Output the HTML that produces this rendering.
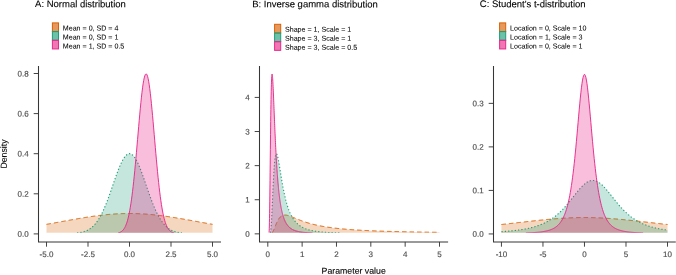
<!DOCTYPE html>
<html><head><meta charset="utf-8"><title>Distributions</title>
<style>html,body{margin:0;padding:0;background:#fff}svg{display:block}text{font-family:"Liberation Sans",Arial,Helvetica,sans-serif;text-rendering:geometricPrecision}</style>
</head><body>
<svg width="676" height="275" viewBox="0 0 676 275">
<rect width="676" height="275" fill="#fff"/>
<g>
<clipPath id="c1"><rect x="38.5" y="58.099999999999994" width="182.5" height="174.75"/></clipPath><g clip-path="url(#c1)">
<path d="M46.50,224.32 L47.06,224.22 L47.61,224.13 L48.17,224.03 L48.72,223.93 L49.28,223.84 L49.83,223.74 L50.39,223.64 L50.94,223.54 L51.50,223.45 L52.05,223.35 L52.61,223.25 L53.16,223.15 L53.72,223.05 L54.27,222.95 L54.83,222.85 L55.38,222.75 L55.94,222.65 L56.49,222.55 L57.05,222.45 L57.60,222.35 L58.16,222.25 L58.71,222.15 L59.27,222.05 L59.82,221.95 L60.38,221.85 L60.93,221.75 L61.49,221.64 L62.05,221.54 L62.60,221.44 L63.16,221.34 L63.71,221.24 L64.27,221.14 L64.82,221.04 L65.38,220.94 L65.93,220.84 L66.49,220.73 L67.04,220.63 L67.60,220.53 L68.15,220.43 L68.71,220.33 L69.26,220.23 L69.82,220.13 L70.37,220.03 L70.93,219.93 L71.48,219.83 L72.04,219.73 L72.59,219.63 L73.15,219.53 L73.70,219.44 L74.26,219.34 L74.81,219.24 L75.37,219.14 L75.92,219.04 L76.48,218.95 L77.04,218.85 L77.59,218.76 L78.15,218.66 L78.70,218.56 L79.26,218.47 L79.81,218.37 L80.37,218.28 L80.92,218.19 L81.48,218.09 L82.03,218.00 L82.59,217.91 L83.14,217.82 L83.70,217.73 L84.25,217.64 L84.81,217.55 L85.36,217.46 L85.92,217.37 L86.47,217.28 L87.03,217.19 L87.58,217.11 L88.14,217.02 L88.69,216.94 L89.25,216.85 L89.80,216.77 L90.36,216.68 L90.91,216.60 L91.47,216.52 L92.03,216.44 L92.58,216.36 L93.14,216.28 L93.69,216.20 L94.25,216.13 L94.80,216.05 L95.36,215.97 L95.91,215.90 L96.47,215.82 L97.02,215.75 L97.58,215.68 L98.13,215.61 L98.69,215.54 L99.24,215.47 L99.80,215.40 L100.35,215.34 L100.91,215.27 L101.46,215.20 L102.02,215.14 L102.57,215.08 L103.13,215.02 L103.68,214.95 L104.24,214.90 L104.79,214.84 L105.35,214.78 L105.90,214.72 L106.46,214.67 L107.02,214.61 L107.57,214.56 L108.13,214.51 L108.68,214.46 L109.24,214.41 L109.79,214.36 L110.35,214.32 L110.90,214.27 L111.46,214.23 L112.01,214.18 L112.57,214.14 L113.12,214.10 L113.68,214.06 L114.23,214.02 L114.79,213.99 L115.34,213.95 L115.90,213.92 L116.45,213.88 L117.01,213.85 L117.56,213.82 L118.12,213.79 L118.67,213.77 L119.23,213.74 L119.78,213.72 L120.34,213.69 L120.89,213.67 L121.45,213.65 L122.01,213.63 L122.56,213.61 L123.12,213.59 L123.67,213.58 L124.23,213.57 L124.78,213.55 L125.34,213.54 L125.89,213.53 L126.45,213.52 L127.00,213.52 L127.56,213.51 L128.11,213.51 L128.67,213.50 L129.22,213.50 L129.78,213.50 L130.33,213.50 L130.89,213.51 L131.44,213.51 L132.00,213.52 L132.55,213.52 L133.11,213.53 L133.66,213.54 L134.22,213.55 L134.77,213.57 L135.33,213.58 L135.88,213.59 L136.44,213.61 L136.99,213.63 L137.55,213.65 L138.11,213.67 L138.66,213.69 L139.22,213.72 L139.77,213.74 L140.33,213.77 L140.88,213.79 L141.44,213.82 L141.99,213.85 L142.55,213.88 L143.10,213.92 L143.66,213.95 L144.21,213.99 L144.77,214.02 L145.32,214.06 L145.88,214.10 L146.43,214.14 L146.99,214.18 L147.54,214.23 L148.10,214.27 L148.65,214.32 L149.21,214.36 L149.76,214.41 L150.32,214.46 L150.87,214.51 L151.43,214.56 L151.98,214.61 L152.54,214.67 L153.10,214.72 L153.65,214.78 L154.21,214.84 L154.76,214.90 L155.32,214.95 L155.87,215.02 L156.43,215.08 L156.98,215.14 L157.54,215.20 L158.09,215.27 L158.65,215.34 L159.20,215.40 L159.76,215.47 L160.31,215.54 L160.87,215.61 L161.42,215.68 L161.98,215.75 L162.53,215.82 L163.09,215.90 L163.64,215.97 L164.20,216.05 L164.75,216.13 L165.31,216.20 L165.86,216.28 L166.42,216.36 L166.97,216.44 L167.53,216.52 L168.09,216.60 L168.64,216.68 L169.20,216.77 L169.75,216.85 L170.31,216.94 L170.86,217.02 L171.42,217.11 L171.97,217.19 L172.53,217.28 L173.08,217.37 L173.64,217.46 L174.19,217.55 L174.75,217.64 L175.30,217.73 L175.86,217.82 L176.41,217.91 L176.97,218.00 L177.52,218.09 L178.08,218.19 L178.63,218.28 L179.19,218.37 L179.74,218.47 L180.30,218.56 L180.85,218.66 L181.41,218.76 L181.96,218.85 L182.52,218.95 L183.08,219.04 L183.63,219.14 L184.19,219.24 L184.74,219.34 L185.30,219.44 L185.85,219.53 L186.41,219.63 L186.96,219.73 L187.52,219.83 L188.07,219.93 L188.63,220.03 L189.18,220.13 L189.74,220.23 L190.29,220.33 L190.85,220.43 L191.40,220.53 L191.96,220.63 L192.51,220.73 L193.07,220.84 L193.62,220.94 L194.18,221.04 L194.73,221.14 L195.29,221.24 L195.84,221.34 L196.40,221.44 L196.95,221.54 L197.51,221.64 L198.07,221.75 L198.62,221.85 L199.18,221.95 L199.73,222.05 L200.29,222.15 L200.84,222.25 L201.40,222.35 L201.95,222.45 L202.51,222.55 L203.06,222.65 L203.62,222.75 L204.17,222.85 L204.73,222.95 L205.28,223.05 L205.84,223.15 L206.39,223.25 L206.95,223.35 L207.50,223.45 L208.06,223.54 L208.61,223.64 L209.17,223.74 L209.72,223.84 L210.28,223.93 L210.83,224.03 L211.39,224.13 L211.94,224.22 L212.50,224.32 L212.50,233.45 L46.50,233.45 Z" fill="#D95F02" fill-opacity="0.25" stroke="none"/>
<path d="M46.50,224.32 L47.06,224.22 L47.61,224.13 L48.17,224.03 L48.72,223.93 L49.28,223.84 L49.83,223.74 L50.39,223.64 L50.94,223.54 L51.50,223.45 L52.05,223.35 L52.61,223.25 L53.16,223.15 L53.72,223.05 L54.27,222.95 L54.83,222.85 L55.38,222.75 L55.94,222.65 L56.49,222.55 L57.05,222.45 L57.60,222.35 L58.16,222.25 L58.71,222.15 L59.27,222.05 L59.82,221.95 L60.38,221.85 L60.93,221.75 L61.49,221.64 L62.05,221.54 L62.60,221.44 L63.16,221.34 L63.71,221.24 L64.27,221.14 L64.82,221.04 L65.38,220.94 L65.93,220.84 L66.49,220.73 L67.04,220.63 L67.60,220.53 L68.15,220.43 L68.71,220.33 L69.26,220.23 L69.82,220.13 L70.37,220.03 L70.93,219.93 L71.48,219.83 L72.04,219.73 L72.59,219.63 L73.15,219.53 L73.70,219.44 L74.26,219.34 L74.81,219.24 L75.37,219.14 L75.92,219.04 L76.48,218.95 L77.04,218.85 L77.59,218.76 L78.15,218.66 L78.70,218.56 L79.26,218.47 L79.81,218.37 L80.37,218.28 L80.92,218.19 L81.48,218.09 L82.03,218.00 L82.59,217.91 L83.14,217.82 L83.70,217.73 L84.25,217.64 L84.81,217.55 L85.36,217.46 L85.92,217.37 L86.47,217.28 L87.03,217.19 L87.58,217.11 L88.14,217.02 L88.69,216.94 L89.25,216.85 L89.80,216.77 L90.36,216.68 L90.91,216.60 L91.47,216.52 L92.03,216.44 L92.58,216.36 L93.14,216.28 L93.69,216.20 L94.25,216.13 L94.80,216.05 L95.36,215.97 L95.91,215.90 L96.47,215.82 L97.02,215.75 L97.58,215.68 L98.13,215.61 L98.69,215.54 L99.24,215.47 L99.80,215.40 L100.35,215.34 L100.91,215.27 L101.46,215.20 L102.02,215.14 L102.57,215.08 L103.13,215.02 L103.68,214.95 L104.24,214.90 L104.79,214.84 L105.35,214.78 L105.90,214.72 L106.46,214.67 L107.02,214.61 L107.57,214.56 L108.13,214.51 L108.68,214.46 L109.24,214.41 L109.79,214.36 L110.35,214.32 L110.90,214.27 L111.46,214.23 L112.01,214.18 L112.57,214.14 L113.12,214.10 L113.68,214.06 L114.23,214.02 L114.79,213.99 L115.34,213.95 L115.90,213.92 L116.45,213.88 L117.01,213.85 L117.56,213.82 L118.12,213.79 L118.67,213.77 L119.23,213.74 L119.78,213.72 L120.34,213.69 L120.89,213.67 L121.45,213.65 L122.01,213.63 L122.56,213.61 L123.12,213.59 L123.67,213.58 L124.23,213.57 L124.78,213.55 L125.34,213.54 L125.89,213.53 L126.45,213.52 L127.00,213.52 L127.56,213.51 L128.11,213.51 L128.67,213.50 L129.22,213.50 L129.78,213.50 L130.33,213.50 L130.89,213.51 L131.44,213.51 L132.00,213.52 L132.55,213.52 L133.11,213.53 L133.66,213.54 L134.22,213.55 L134.77,213.57 L135.33,213.58 L135.88,213.59 L136.44,213.61 L136.99,213.63 L137.55,213.65 L138.11,213.67 L138.66,213.69 L139.22,213.72 L139.77,213.74 L140.33,213.77 L140.88,213.79 L141.44,213.82 L141.99,213.85 L142.55,213.88 L143.10,213.92 L143.66,213.95 L144.21,213.99 L144.77,214.02 L145.32,214.06 L145.88,214.10 L146.43,214.14 L146.99,214.18 L147.54,214.23 L148.10,214.27 L148.65,214.32 L149.21,214.36 L149.76,214.41 L150.32,214.46 L150.87,214.51 L151.43,214.56 L151.98,214.61 L152.54,214.67 L153.10,214.72 L153.65,214.78 L154.21,214.84 L154.76,214.90 L155.32,214.95 L155.87,215.02 L156.43,215.08 L156.98,215.14 L157.54,215.20 L158.09,215.27 L158.65,215.34 L159.20,215.40 L159.76,215.47 L160.31,215.54 L160.87,215.61 L161.42,215.68 L161.98,215.75 L162.53,215.82 L163.09,215.90 L163.64,215.97 L164.20,216.05 L164.75,216.13 L165.31,216.20 L165.86,216.28 L166.42,216.36 L166.97,216.44 L167.53,216.52 L168.09,216.60 L168.64,216.68 L169.20,216.77 L169.75,216.85 L170.31,216.94 L170.86,217.02 L171.42,217.11 L171.97,217.19 L172.53,217.28 L173.08,217.37 L173.64,217.46 L174.19,217.55 L174.75,217.64 L175.30,217.73 L175.86,217.82 L176.41,217.91 L176.97,218.00 L177.52,218.09 L178.08,218.19 L178.63,218.28 L179.19,218.37 L179.74,218.47 L180.30,218.56 L180.85,218.66 L181.41,218.76 L181.96,218.85 L182.52,218.95 L183.08,219.04 L183.63,219.14 L184.19,219.24 L184.74,219.34 L185.30,219.44 L185.85,219.53 L186.41,219.63 L186.96,219.73 L187.52,219.83 L188.07,219.93 L188.63,220.03 L189.18,220.13 L189.74,220.23 L190.29,220.33 L190.85,220.43 L191.40,220.53 L191.96,220.63 L192.51,220.73 L193.07,220.84 L193.62,220.94 L194.18,221.04 L194.73,221.14 L195.29,221.24 L195.84,221.34 L196.40,221.44 L196.95,221.54 L197.51,221.64 L198.07,221.75 L198.62,221.85 L199.18,221.95 L199.73,222.05 L200.29,222.15 L200.84,222.25 L201.40,222.35 L201.95,222.45 L202.51,222.55 L203.06,222.65 L203.62,222.75 L204.17,222.85 L204.73,222.95 L205.28,223.05 L205.84,223.15 L206.39,223.25 L206.95,223.35 L207.50,223.45 L208.06,223.54 L208.61,223.64 L209.17,223.74 L209.72,223.84 L210.28,223.93 L210.83,224.03 L211.39,224.13 L211.94,224.22 L212.50,224.32" fill="none" stroke="#D95F02" stroke-width="1.0" stroke-linejoin="round" stroke-dasharray="4.5 3.0"/>
<path d="M46.50,233.45 L47.06,233.45 L47.61,233.45 L48.17,233.45 L48.72,233.45 L49.28,233.45 L49.83,233.45 L50.39,233.45 L50.94,233.45 L51.50,233.45 L52.05,233.45 L52.61,233.45 L53.16,233.45 L53.72,233.45 L54.27,233.45 L54.83,233.45 L55.38,233.45 L55.94,233.45 L56.49,233.44 L57.05,233.44 L57.60,233.44 L58.16,233.44 L58.71,233.44 L59.27,233.44 L59.82,233.44 L60.38,233.44 L60.93,233.43 L61.49,233.43 L62.05,233.43 L62.60,233.43 L63.16,233.42 L63.71,233.42 L64.27,233.41 L64.82,233.41 L65.38,233.40 L65.93,233.40 L66.49,233.39 L67.04,233.38 L67.60,233.37 L68.15,233.36 L68.71,233.35 L69.26,233.34 L69.82,233.33 L70.37,233.31 L70.93,233.29 L71.48,233.27 L72.04,233.25 L72.59,233.23 L73.15,233.20 L73.70,233.17 L74.26,233.14 L74.81,233.10 L75.37,233.06 L75.92,233.01 L76.48,232.96 L77.04,232.91 L77.59,232.85 L78.15,232.78 L78.70,232.71 L79.26,232.63 L79.81,232.55 L80.37,232.45 L80.92,232.35 L81.48,232.24 L82.03,232.11 L82.59,231.98 L83.14,231.83 L83.70,231.68 L84.25,231.51 L84.81,231.32 L85.36,231.12 L85.92,230.91 L86.47,230.68 L87.03,230.43 L87.58,230.16 L88.14,229.87 L88.69,229.56 L89.25,229.23 L89.80,228.88 L90.36,228.50 L90.91,228.10 L91.47,227.67 L92.03,227.21 L92.58,226.72 L93.14,226.21 L93.69,225.66 L94.25,225.08 L94.80,224.47 L95.36,223.83 L95.91,223.15 L96.47,222.43 L97.02,221.68 L97.58,220.89 L98.13,220.07 L98.69,219.20 L99.24,218.30 L99.80,217.35 L100.35,216.37 L100.91,215.35 L101.46,214.29 L102.02,213.18 L102.57,212.04 L103.13,210.86 L103.68,209.64 L104.24,208.38 L104.79,207.09 L105.35,205.76 L105.90,204.40 L106.46,203.00 L107.02,201.57 L107.57,200.11 L108.13,198.62 L108.68,197.11 L109.24,195.58 L109.79,194.02 L110.35,192.44 L110.90,190.86 L111.46,189.25 L112.01,187.64 L112.57,186.03 L113.12,184.41 L113.68,182.79 L114.23,181.18 L114.79,179.58 L115.34,177.99 L115.90,176.41 L116.45,174.86 L117.01,173.34 L117.56,171.84 L118.12,170.37 L118.67,168.95 L119.23,167.56 L119.78,166.22 L120.34,164.93 L120.89,163.69 L121.45,162.51 L122.01,161.39 L122.56,160.34 L123.12,159.35 L123.67,158.43 L124.23,157.59 L124.78,156.82 L125.34,156.13 L125.89,155.52 L126.45,155.00 L127.00,154.56 L127.56,154.21 L128.11,153.94 L128.67,153.76 L129.22,153.67 L129.78,153.67 L130.33,153.76 L130.89,153.94 L131.44,154.21 L132.00,154.56 L132.55,155.00 L133.11,155.52 L133.66,156.13 L134.22,156.82 L134.77,157.59 L135.33,158.43 L135.88,159.35 L136.44,160.34 L136.99,161.39 L137.55,162.51 L138.11,163.69 L138.66,164.93 L139.22,166.22 L139.77,167.56 L140.33,168.95 L140.88,170.37 L141.44,171.84 L141.99,173.34 L142.55,174.86 L143.10,176.41 L143.66,177.99 L144.21,179.58 L144.77,181.18 L145.32,182.79 L145.88,184.41 L146.43,186.03 L146.99,187.64 L147.54,189.25 L148.10,190.86 L148.65,192.44 L149.21,194.02 L149.76,195.58 L150.32,197.11 L150.87,198.62 L151.43,200.11 L151.98,201.57 L152.54,203.00 L153.10,204.40 L153.65,205.76 L154.21,207.09 L154.76,208.38 L155.32,209.64 L155.87,210.86 L156.43,212.04 L156.98,213.18 L157.54,214.29 L158.09,215.35 L158.65,216.37 L159.20,217.35 L159.76,218.30 L160.31,219.20 L160.87,220.07 L161.42,220.89 L161.98,221.68 L162.53,222.43 L163.09,223.15 L163.64,223.83 L164.20,224.47 L164.75,225.08 L165.31,225.66 L165.86,226.21 L166.42,226.72 L166.97,227.21 L167.53,227.67 L168.09,228.10 L168.64,228.50 L169.20,228.88 L169.75,229.23 L170.31,229.56 L170.86,229.87 L171.42,230.16 L171.97,230.43 L172.53,230.68 L173.08,230.91 L173.64,231.12 L174.19,231.32 L174.75,231.51 L175.30,231.68 L175.86,231.83 L176.41,231.98 L176.97,232.11 L177.52,232.24 L178.08,232.35 L178.63,232.45 L179.19,232.55 L179.74,232.63 L180.30,232.71 L180.85,232.78 L181.41,232.85 L181.96,232.91 L182.52,232.96 L183.08,233.01 L183.63,233.06 L184.19,233.10 L184.74,233.14 L185.30,233.17 L185.85,233.20 L186.41,233.23 L186.96,233.25 L187.52,233.27 L188.07,233.29 L188.63,233.31 L189.18,233.33 L189.74,233.34 L190.29,233.35 L190.85,233.36 L191.40,233.37 L191.96,233.38 L192.51,233.39 L193.07,233.40 L193.62,233.40 L194.18,233.41 L194.73,233.41 L195.29,233.42 L195.84,233.42 L196.40,233.43 L196.95,233.43 L197.51,233.43 L198.07,233.43 L198.62,233.44 L199.18,233.44 L199.73,233.44 L200.29,233.44 L200.84,233.44 L201.40,233.44 L201.95,233.44 L202.51,233.44 L203.06,233.45 L203.62,233.45 L204.17,233.45 L204.73,233.45 L205.28,233.45 L205.84,233.45 L206.39,233.45 L206.95,233.45 L207.50,233.45 L208.06,233.45 L208.61,233.45 L209.17,233.45 L209.72,233.45 L210.28,233.45 L210.83,233.45 L211.39,233.45 L211.94,233.45 L212.50,233.45 L212.50,233.45 L46.50,233.45 Z" fill="#1B9E77" fill-opacity="0.26" stroke="none"/>
<path d="M77.04,232.91 L77.59,232.85 L78.15,232.78 L78.70,232.71 L79.26,232.63 L79.81,232.55 L80.37,232.45 L80.92,232.35 L81.48,232.24 L82.03,232.11 L82.59,231.98 L83.14,231.83 L83.70,231.68 L84.25,231.51 L84.81,231.32 L85.36,231.12 L85.92,230.91 L86.47,230.68 L87.03,230.43 L87.58,230.16 L88.14,229.87 L88.69,229.56 L89.25,229.23 L89.80,228.88 L90.36,228.50 L90.91,228.10 L91.47,227.67 L92.03,227.21 L92.58,226.72 L93.14,226.21 L93.69,225.66 L94.25,225.08 L94.80,224.47 L95.36,223.83 L95.91,223.15 L96.47,222.43 L97.02,221.68 L97.58,220.89 L98.13,220.07 L98.69,219.20 L99.24,218.30 L99.80,217.35 L100.35,216.37 L100.91,215.35 L101.46,214.29 L102.02,213.18 L102.57,212.04 L103.13,210.86 L103.68,209.64 L104.24,208.38 L104.79,207.09 L105.35,205.76 L105.90,204.40 L106.46,203.00 L107.02,201.57 L107.57,200.11 L108.13,198.62 L108.68,197.11 L109.24,195.58 L109.79,194.02 L110.35,192.44 L110.90,190.86 L111.46,189.25 L112.01,187.64 L112.57,186.03 L113.12,184.41 L113.68,182.79 L114.23,181.18 L114.79,179.58 L115.34,177.99 L115.90,176.41 L116.45,174.86 L117.01,173.34 L117.56,171.84 L118.12,170.37 L118.67,168.95 L119.23,167.56 L119.78,166.22 L120.34,164.93 L120.89,163.69 L121.45,162.51 L122.01,161.39 L122.56,160.34 L123.12,159.35 L123.67,158.43 L124.23,157.59 L124.78,156.82 L125.34,156.13 L125.89,155.52 L126.45,155.00 L127.00,154.56 L127.56,154.21 L128.11,153.94 L128.67,153.76 L129.22,153.67 L129.78,153.67 L130.33,153.76 L130.89,153.94 L131.44,154.21 L132.00,154.56 L132.55,155.00 L133.11,155.52 L133.66,156.13 L134.22,156.82 L134.77,157.59 L135.33,158.43 L135.88,159.35 L136.44,160.34 L136.99,161.39 L137.55,162.51 L138.11,163.69 L138.66,164.93 L139.22,166.22 L139.77,167.56 L140.33,168.95 L140.88,170.37 L141.44,171.84 L141.99,173.34 L142.55,174.86 L143.10,176.41 L143.66,177.99 L144.21,179.58 L144.77,181.18 L145.32,182.79 L145.88,184.41 L146.43,186.03 L146.99,187.64 L147.54,189.25 L148.10,190.86 L148.65,192.44 L149.21,194.02 L149.76,195.58 L150.32,197.11 L150.87,198.62 L151.43,200.11 L151.98,201.57 L152.54,203.00 L153.10,204.40 L153.65,205.76 L154.21,207.09 L154.76,208.38 L155.32,209.64 L155.87,210.86 L156.43,212.04 L156.98,213.18 L157.54,214.29 L158.09,215.35 L158.65,216.37 L159.20,217.35 L159.76,218.30 L160.31,219.20 L160.87,220.07 L161.42,220.89 L161.98,221.68 L162.53,222.43 L163.09,223.15 L163.64,223.83 L164.20,224.47 L164.75,225.08 L165.31,225.66 L165.86,226.21 L166.42,226.72 L166.97,227.21 L167.53,227.67 L168.09,228.10 L168.64,228.50 L169.20,228.88 L169.75,229.23 L170.31,229.56 L170.86,229.87 L171.42,230.16 L171.97,230.43 L172.53,230.68 L173.08,230.91 L173.64,231.12 L174.19,231.32 L174.75,231.51 L175.30,231.68 L175.86,231.83 L176.41,231.98 L176.97,232.11 L177.52,232.24 L178.08,232.35 L178.63,232.45 L179.19,232.55 L179.74,232.63 L180.30,232.71 L180.85,232.78 L181.41,232.85 L181.96,232.91" fill="none" stroke="#1B9E77" stroke-width="1.1" stroke-linejoin="round" stroke-dasharray="1.25 2.08"/>
<path d="M46.50,233.45 L47.06,233.45 L47.61,233.45 L48.17,233.45 L48.72,233.45 L49.28,233.45 L49.83,233.45 L50.39,233.45 L50.94,233.45 L51.50,233.45 L52.05,233.45 L52.61,233.45 L53.16,233.45 L53.72,233.45 L54.27,233.45 L54.83,233.45 L55.38,233.45 L55.94,233.45 L56.49,233.45 L57.05,233.45 L57.60,233.45 L58.16,233.45 L58.71,233.45 L59.27,233.45 L59.82,233.45 L60.38,233.45 L60.93,233.45 L61.49,233.45 L62.05,233.45 L62.60,233.45 L63.16,233.45 L63.71,233.45 L64.27,233.45 L64.82,233.45 L65.38,233.45 L65.93,233.45 L66.49,233.45 L67.04,233.45 L67.60,233.45 L68.15,233.45 L68.71,233.45 L69.26,233.45 L69.82,233.45 L70.37,233.45 L70.93,233.45 L71.48,233.45 L72.04,233.45 L72.59,233.45 L73.15,233.45 L73.70,233.45 L74.26,233.45 L74.81,233.45 L75.37,233.45 L75.92,233.45 L76.48,233.45 L77.04,233.45 L77.59,233.45 L78.15,233.45 L78.70,233.45 L79.26,233.45 L79.81,233.45 L80.37,233.45 L80.92,233.45 L81.48,233.45 L82.03,233.45 L82.59,233.45 L83.14,233.45 L83.70,233.45 L84.25,233.45 L84.81,233.45 L85.36,233.45 L85.92,233.45 L86.47,233.45 L87.03,233.45 L87.58,233.45 L88.14,233.45 L88.69,233.45 L89.25,233.45 L89.80,233.45 L90.36,233.45 L90.91,233.45 L91.47,233.45 L92.03,233.45 L92.58,233.45 L93.14,233.45 L93.69,233.45 L94.25,233.45 L94.80,233.45 L95.36,233.45 L95.91,233.45 L96.47,233.45 L97.02,233.45 L97.58,233.45 L98.13,233.45 L98.69,233.45 L99.24,233.45 L99.80,233.45 L100.35,233.45 L100.91,233.45 L101.46,233.45 L102.02,233.45 L102.57,233.45 L103.13,233.45 L103.68,233.45 L104.24,233.45 L104.79,233.45 L105.35,233.45 L105.90,233.45 L106.46,233.45 L107.02,233.45 L107.57,233.45 L108.13,233.45 L108.68,233.44 L109.24,233.44 L109.79,233.44 L110.35,233.44 L110.90,233.43 L111.46,233.42 L112.01,233.42 L112.57,233.40 L113.12,233.39 L113.68,233.37 L114.23,233.35 L114.79,233.32 L115.34,233.28 L115.90,233.24 L116.45,233.18 L117.01,233.11 L117.56,233.02 L118.12,232.91 L118.67,232.77 L119.23,232.60 L119.78,232.40 L120.34,232.16 L120.89,231.86 L121.45,231.51 L122.01,231.09 L122.56,230.59 L123.12,230.00 L123.67,229.31 L124.23,228.50 L124.78,227.56 L125.34,226.47 L125.89,225.21 L126.45,223.78 L127.00,222.15 L127.56,220.29 L128.11,218.21 L128.67,215.87 L129.22,213.26 L129.78,210.37 L130.33,207.19 L130.89,203.70 L131.44,199.89 L132.00,195.77 L132.55,191.33 L133.11,186.57 L133.66,181.51 L134.22,176.17 L134.77,170.55 L135.33,164.69 L135.88,158.63 L136.44,152.39 L136.99,146.02 L137.55,139.57 L138.11,133.10 L138.66,126.66 L139.22,120.32 L139.77,114.13 L140.33,108.17 L140.88,102.49 L141.44,97.17 L141.99,92.27 L142.55,87.85 L143.10,83.95 L143.66,80.64 L144.21,77.95 L144.77,75.92 L145.32,74.57 L145.88,73.93 L146.43,74.00 L146.99,74.78 L147.54,76.27 L148.10,78.43 L148.65,81.25 L149.21,84.68 L149.76,88.69 L150.32,93.22 L150.87,98.21 L151.43,103.60 L151.98,109.34 L152.54,115.35 L153.10,121.58 L153.65,127.95 L154.21,134.40 L154.76,140.87 L155.32,147.30 L155.87,153.65 L156.43,159.86 L156.98,165.88 L157.54,171.69 L158.09,177.26 L158.65,182.55 L159.20,187.55 L159.76,192.24 L160.31,196.62 L160.87,200.68 L161.42,204.42 L161.98,207.85 L162.53,210.97 L163.09,213.81 L163.64,216.36 L164.20,218.64 L164.75,220.68 L165.31,222.49 L165.86,224.08 L166.42,225.48 L166.97,226.70 L167.53,227.76 L168.09,228.67 L168.64,229.46 L169.20,230.13 L169.75,230.70 L170.31,231.18 L170.86,231.59 L171.42,231.93 L171.97,232.21 L172.53,232.45 L173.08,232.64 L173.64,232.80 L174.19,232.93 L174.75,233.04 L175.30,233.12 L175.86,233.19 L176.41,233.25 L176.97,233.29 L177.52,233.33 L178.08,233.35 L178.63,233.38 L179.19,233.39 L179.74,233.41 L180.30,233.42 L180.85,233.43 L181.41,233.43 L181.96,233.44 L182.52,233.44 L183.08,233.44 L183.63,233.44 L184.19,233.45 L184.74,233.45 L185.30,233.45 L185.85,233.45 L186.41,233.45 L186.96,233.45 L187.52,233.45 L188.07,233.45 L188.63,233.45 L189.18,233.45 L189.74,233.45 L190.29,233.45 L190.85,233.45 L191.40,233.45 L191.96,233.45 L192.51,233.45 L193.07,233.45 L193.62,233.45 L194.18,233.45 L194.73,233.45 L195.29,233.45 L195.84,233.45 L196.40,233.45 L196.95,233.45 L197.51,233.45 L198.07,233.45 L198.62,233.45 L199.18,233.45 L199.73,233.45 L200.29,233.45 L200.84,233.45 L201.40,233.45 L201.95,233.45 L202.51,233.45 L203.06,233.45 L203.62,233.45 L204.17,233.45 L204.73,233.45 L205.28,233.45 L205.84,233.45 L206.39,233.45 L206.95,233.45 L207.50,233.45 L208.06,233.45 L208.61,233.45 L209.17,233.45 L209.72,233.45 L210.28,233.45 L210.83,233.45 L211.39,233.45 L211.94,233.45 L212.50,233.45 L212.50,233.45 L46.50,233.45 Z" fill="#E7298A" fill-opacity="0.3" stroke="none"/>
<path d="M118.12,232.91 L118.67,232.77 L119.23,232.60 L119.78,232.40 L120.34,232.16 L120.89,231.86 L121.45,231.51 L122.01,231.09 L122.56,230.59 L123.12,230.00 L123.67,229.31 L124.23,228.50 L124.78,227.56 L125.34,226.47 L125.89,225.21 L126.45,223.78 L127.00,222.15 L127.56,220.29 L128.11,218.21 L128.67,215.87 L129.22,213.26 L129.78,210.37 L130.33,207.19 L130.89,203.70 L131.44,199.89 L132.00,195.77 L132.55,191.33 L133.11,186.57 L133.66,181.51 L134.22,176.17 L134.77,170.55 L135.33,164.69 L135.88,158.63 L136.44,152.39 L136.99,146.02 L137.55,139.57 L138.11,133.10 L138.66,126.66 L139.22,120.32 L139.77,114.13 L140.33,108.17 L140.88,102.49 L141.44,97.17 L141.99,92.27 L142.55,87.85 L143.10,83.95 L143.66,80.64 L144.21,77.95 L144.77,75.92 L145.32,74.57 L145.88,73.93 L146.43,74.00 L146.99,74.78 L147.54,76.27 L148.10,78.43 L148.65,81.25 L149.21,84.68 L149.76,88.69 L150.32,93.22 L150.87,98.21 L151.43,103.60 L151.98,109.34 L152.54,115.35 L153.10,121.58 L153.65,127.95 L154.21,134.40 L154.76,140.87 L155.32,147.30 L155.87,153.65 L156.43,159.86 L156.98,165.88 L157.54,171.69 L158.09,177.26 L158.65,182.55 L159.20,187.55 L159.76,192.24 L160.31,196.62 L160.87,200.68 L161.42,204.42 L161.98,207.85 L162.53,210.97 L163.09,213.81 L163.64,216.36 L164.20,218.64 L164.75,220.68 L165.31,222.49 L165.86,224.08 L166.42,225.48 L166.97,226.70 L167.53,227.76 L168.09,228.67 L168.64,229.46 L169.20,230.13 L169.75,230.70 L170.31,231.18 L170.86,231.59 L171.42,231.93 L171.97,232.21 L172.53,232.45 L173.08,232.64 L173.64,232.80 L174.19,232.93" fill="none" stroke="#E7298A" stroke-width="0.95" stroke-linejoin="round"/>
</g>
<path d="M38.5,66.1 L38.5,241.9 L221.0,241.9" fill="none" stroke="#363636" stroke-width="1.05" />
<line x1="46.50" x2="46.50" y1="241.9" y2="246.70" stroke="#3a3a3a" stroke-width="0.95"/>
<text x="46.50" y="257.10" text-anchor="middle" font-size="8.0" fill="#4D4D4D" stroke="#4D4D4D" stroke-width="0.15" transform="rotate(0.04 46.50 257.10)">-5.0</text>
<line x1="88.00" x2="88.00" y1="241.9" y2="246.70" stroke="#3a3a3a" stroke-width="0.95"/>
<text x="88.00" y="257.10" text-anchor="middle" font-size="8.0" fill="#4D4D4D" stroke="#4D4D4D" stroke-width="0.15" transform="rotate(0.04 88.00 257.10)">-2.5</text>
<line x1="129.50" x2="129.50" y1="241.9" y2="246.70" stroke="#3a3a3a" stroke-width="0.95"/>
<text x="129.50" y="257.10" text-anchor="middle" font-size="8.0" fill="#4D4D4D" stroke="#4D4D4D" stroke-width="0.15" transform="rotate(0.04 129.50 257.10)">0.0</text>
<line x1="171.00" x2="171.00" y1="241.9" y2="246.70" stroke="#3a3a3a" stroke-width="0.95"/>
<text x="171.00" y="257.10" text-anchor="middle" font-size="8.0" fill="#4D4D4D" stroke="#4D4D4D" stroke-width="0.15" transform="rotate(0.04 171.00 257.10)">2.5</text>
<line x1="212.50" x2="212.50" y1="241.9" y2="246.70" stroke="#3a3a3a" stroke-width="0.95"/>
<text x="212.50" y="257.10" text-anchor="middle" font-size="8.0" fill="#4D4D4D" stroke="#4D4D4D" stroke-width="0.15" transform="rotate(0.04 212.50 257.10)">5.0</text>
<line x1="33.7" x2="38.5" y1="233.90" y2="233.90" stroke="#3a3a3a" stroke-width="0.95"/>
<text x="28.60" y="236.80" text-anchor="end" font-size="8.0" fill="#4D4D4D" stroke="#4D4D4D" stroke-width="0.15" transform="rotate(0.04 28.60 236.80)">0.0</text>
<line x1="33.7" x2="38.5" y1="193.80" y2="193.80" stroke="#3a3a3a" stroke-width="0.95"/>
<text x="28.60" y="196.70" text-anchor="end" font-size="8.0" fill="#4D4D4D" stroke="#4D4D4D" stroke-width="0.15" transform="rotate(0.04 28.60 196.70)">0.2</text>
<line x1="33.7" x2="38.5" y1="153.70" y2="153.70" stroke="#3a3a3a" stroke-width="0.95"/>
<text x="28.60" y="156.60" text-anchor="end" font-size="8.0" fill="#4D4D4D" stroke="#4D4D4D" stroke-width="0.15" transform="rotate(0.04 28.60 156.60)">0.4</text>
<line x1="33.7" x2="38.5" y1="113.60" y2="113.60" stroke="#3a3a3a" stroke-width="0.95"/>
<text x="28.60" y="116.50" text-anchor="end" font-size="8.0" fill="#4D4D4D" stroke="#4D4D4D" stroke-width="0.15" transform="rotate(0.04 28.60 116.50)">0.6</text>
<line x1="33.7" x2="38.5" y1="73.50" y2="73.50" stroke="#3a3a3a" stroke-width="0.95"/>
<text x="28.60" y="76.40" text-anchor="end" font-size="8.0" fill="#4D4D4D" stroke="#4D4D4D" stroke-width="0.15" transform="rotate(0.04 28.60 76.40)">0.8</text>
<text x="35.1" y="7.1" font-size="9.5" fill="#000" stroke="#000" stroke-width="0.1" transform="rotate(0.04 35.1 7.1)">A: Normal distribution</text>
<rect x="52.4" y="22.90" width="6.1" height="8.65" fill="#D95F02" fill-opacity="0.64" stroke="#D95F02" stroke-width="1.0"/>
<text x="62.8" y="30.40" font-size="7.1" fill="#000" stroke="#000" stroke-width="0.05" transform="rotate(0.04 62.8 30.40)">Mean = 0, SD = 4</text>
<rect x="52.4" y="31.60" width="6.1" height="8.65" fill="#1B9E77" fill-opacity="0.64" stroke="#1B9E77" stroke-width="1.0"/>
<text x="62.8" y="39.40" font-size="7.1" fill="#000" stroke="#000" stroke-width="0.05" transform="rotate(0.04 62.8 39.40)">Mean = 0, SD = 1</text>
<rect x="52.4" y="40.30" width="6.1" height="8.65" fill="#E7298A" fill-opacity="0.64" stroke="#E7298A" stroke-width="1.0"/>
<text x="62.8" y="48.40" font-size="7.1" fill="#000" stroke="#000" stroke-width="0.05" transform="rotate(0.04 62.8 48.40)">Mean = 1, SD = 0.5</text>
<clipPath id="c2"><rect x="259.5" y="58.099999999999994" width="188.60000000000002" height="174.75"/></clipPath><g clip-path="url(#c2)">
<path d="M268.14,233.45 L268.23,233.45 L268.31,233.45 L268.40,233.45 L268.48,233.45 L268.57,233.45 L268.65,233.45 L268.74,233.45 L268.83,233.45 L268.91,233.45 L269.00,233.45 L269.08,233.45 L269.17,233.45 L269.25,233.45 L269.34,233.45 L269.42,233.45 L269.51,233.45 L269.59,233.45 L269.68,233.45 L269.76,233.45 L269.85,233.45 L269.93,233.45 L270.02,233.45 L270.10,233.45 L270.19,233.45 L270.27,233.44 L270.36,233.44 L270.44,233.44 L270.53,233.43 L270.61,233.42 L270.70,233.42 L270.78,233.40 L270.87,233.39 L270.96,233.37 L271.04,233.35 L271.13,233.33 L271.21,233.30 L271.30,233.27 L271.38,233.24 L271.47,233.19 L271.55,233.15 L271.64,233.10 L271.72,233.04 L271.81,232.98 L271.89,232.91 L271.98,232.83 L272.06,232.75 L272.15,232.66 L272.23,232.57 L272.32,232.47 L272.40,232.36 L272.49,232.25 L272.57,232.13 L272.66,232.00 L272.74,231.87 L272.83,231.73 L272.91,231.59 L273.00,231.44 L273.09,231.29 L273.17,231.13 L273.26,230.96 L273.34,230.79 L273.43,230.62 L273.51,230.44 L273.60,230.26 L273.68,230.07 L273.77,229.88 L273.85,229.69 L273.94,229.50 L274.02,229.30 L274.11,229.10 L274.19,228.89 L274.28,228.69 L274.36,228.48 L274.45,228.27 L274.53,228.06 L274.62,227.85 L274.70,227.63 L274.79,227.42 L274.87,227.20 L274.96,226.99 L275.04,226.77 L275.13,226.56 L275.22,226.34 L275.30,226.13 L275.39,225.92 L275.47,225.70 L275.56,225.49 L275.64,225.28 L275.73,225.07 L275.81,224.86 L275.90,224.65 L275.98,224.44 L276.07,224.24 L276.15,224.03 L276.24,223.83 L276.32,223.63 L276.41,223.43 L276.49,223.24 L276.58,223.04 L276.66,222.85 L276.75,222.66 L276.83,222.47 L276.92,222.29 L277.00,222.10 L277.09,221.92 L277.18,221.75 L277.26,221.57 L277.35,221.40 L277.43,221.23 L277.52,221.06 L277.60,220.89 L277.69,220.73 L277.77,220.57 L277.86,220.41 L277.94,220.26 L278.03,220.10 L278.11,219.96 L278.20,219.81 L278.28,219.66 L278.37,219.52 L278.45,219.38 L278.54,219.25 L278.62,219.11 L278.71,218.98 L278.79,218.85 L278.88,218.73 L278.96,218.60 L279.05,218.48 L279.13,218.37 L279.22,218.25 L279.31,218.14 L279.39,218.03 L279.48,217.92 L279.56,217.81 L279.65,217.71 L279.73,217.61 L279.82,217.51 L279.90,217.42 L279.99,217.32 L280.07,217.23 L280.16,217.14 L280.24,217.06 L280.33,216.97 L280.41,216.89 L280.50,216.81 L280.58,216.73 L280.67,216.66 L280.75,216.59 L280.84,216.51 L280.92,216.44 L281.01,216.38 L281.09,216.31 L281.18,216.25 L281.26,216.19 L281.35,216.13 L281.44,216.07 L281.52,216.02 L281.61,215.96 L281.69,215.91 L281.78,215.86 L281.86,215.81 L281.95,215.77 L282.03,215.72 L282.12,215.68 L282.20,215.64 L282.29,215.60 L282.37,215.56 L282.46,215.52 L282.54,215.49 L282.63,215.46 L282.71,215.42 L282.80,215.39 L282.88,215.36 L282.97,215.34 L283.05,215.31 L283.14,215.29 L283.22,215.26 L283.31,215.24 L283.40,215.22 L283.48,215.20 L283.57,215.18 L283.65,215.16 L283.74,215.15 L283.82,215.13 L283.91,215.12 L283.99,215.11 L284.08,215.10 L284.16,215.09 L284.25,215.08 L284.33,215.07 L284.42,215.06 L284.50,215.06 L284.59,215.05 L284.67,215.05 L284.76,215.05 L284.84,215.05 L284.93,215.04 L285.01,215.04 L285.10,215.05 L285.18,215.05 L285.27,215.05 L285.35,215.05 L285.44,215.06 L285.53,215.06 L285.61,215.07 L285.70,215.08 L285.78,215.08 L285.87,215.09 L285.95,215.10 L286.04,215.11 L286.12,215.12 L286.21,215.13 L286.29,215.14 L286.38,215.16 L286.46,215.17 L286.55,215.18 L286.63,215.20 L286.72,215.21 L286.80,215.23 L286.89,215.24 L286.97,215.26 L287.06,215.28 L287.14,215.29 L287.23,215.31 L287.31,215.33 L287.40,215.35 L287.48,215.37 L287.57,215.39 L287.66,215.41 L287.74,215.43 L287.83,215.45 L287.91,215.48 L288.00,215.50 L288.08,215.52 L288.17,215.54 L288.25,215.57 L288.34,215.59 L288.42,215.62 L288.51,215.64 L288.59,215.67 L288.68,215.69 L288.76,215.72 L288.85,215.74 L288.93,215.77 L289.02,215.80 L289.10,215.83 L289.19,215.85 L289.27,215.88 L289.36,215.91 L289.44,215.94 L289.53,215.97 L289.61,215.99 L289.70,216.02 L289.79,216.05 L289.87,216.08 L289.96,216.11 L290.04,216.14 L290.13,216.17 L290.21,216.20 L290.30,216.23 L290.38,216.27 L290.47,216.30 L290.55,216.33 L290.64,216.36 L290.72,216.39 L290.81,216.42 L290.89,216.46 L290.98,216.49 L291.06,216.52 L291.15,216.55 L291.23,216.59 L291.32,216.62 L291.40,216.65 L291.49,216.68 L291.57,216.72 L291.66,216.75 L291.75,216.78 L291.83,216.82 L291.92,216.85 L292.00,216.89 L292.09,216.92 L292.17,216.95 L292.26,216.99 L292.34,217.02 L292.43,217.06 L292.51,217.09 L292.60,217.13 L292.68,217.16 L292.77,217.19 L292.85,217.23 L292.94,217.26 L293.02,217.30 L293.11,217.33 L293.19,217.37 L293.28,217.40 L293.36,217.44 L293.45,217.47 L293.53,217.51 L293.62,217.54 L293.70,217.58 L293.79,217.61 L293.88,217.65 L293.96,217.68 L294.05,217.72 L294.13,217.76 L294.22,217.79 L294.30,217.83 L294.39,217.86 L294.47,217.90 L294.56,217.93 L294.64,217.97 L294.73,218.00 L294.81,218.04 L294.90,218.07 L294.98,218.11 L295.07,218.14 L295.15,218.18 L295.24,218.22 L295.32,218.25 L295.41,218.29 L295.49,218.32 L295.58,218.36 L295.66,218.39 L295.75,218.43 L295.83,218.46 L295.92,218.50 L296.01,218.53 L296.09,218.57 L296.18,218.60 L296.26,218.64 L296.35,218.67 L296.43,218.71 L296.52,218.74 L296.60,218.78 L296.69,218.81 L296.77,218.85 L296.86,218.88 L296.94,218.92 L297.03,218.95 L297.11,218.99 L297.20,219.02 L297.28,219.06 L297.37,219.09 L297.45,219.13 L297.54,219.16 L297.62,219.20 L297.71,219.23 L297.79,219.27 L297.88,219.30 L297.96,219.34 L298.05,219.37 L298.14,219.40 L298.22,219.44 L298.31,219.47 L298.39,219.51 L298.48,219.54 L298.56,219.57 L298.65,219.61 L298.73,219.64 L298.82,219.68 L298.90,219.71 L298.99,219.74 L299.07,219.78 L299.16,219.81 L299.24,219.84 L299.33,219.88 L299.41,219.91 L299.50,219.94 L299.58,219.98 L299.67,220.01 L299.75,220.04 L299.84,220.08 L299.92,220.11 L300.01,220.14 L300.10,220.18 L300.18,220.21 L300.27,220.24 L300.35,220.27 L300.44,220.31 L300.52,220.34 L300.61,220.37 L300.69,220.40 L300.78,220.44 L300.86,220.47 L300.95,220.50 L301.03,220.53 L301.12,220.56 L301.20,220.60 L301.29,220.63 L301.37,220.66 L301.46,220.69 L301.54,220.72 L301.63,220.75 L301.71,220.79 L301.80,220.82 L301.88,220.85 L301.97,220.88 L302.05,220.91 L302.14,220.94 L302.83,221.19 L303.52,221.43 L304.21,221.67 L304.90,221.91 L305.59,222.13 L306.28,222.36 L306.97,222.58 L307.66,222.79 L308.35,223.00 L309.04,223.20 L309.73,223.40 L310.42,223.59 L311.11,223.78 L311.80,223.96 L312.49,224.14 L313.18,224.32 L313.87,224.49 L314.56,224.65 L315.25,224.82 L315.95,224.97 L316.64,225.13 L317.33,225.28 L318.02,225.43 L318.71,225.57 L319.40,225.71 L320.09,225.85 L320.78,225.98 L321.47,226.11 L322.16,226.24 L322.85,226.36 L323.54,226.48 L324.23,226.60 L324.92,226.71 L325.61,226.83 L326.30,226.94 L326.99,227.04 L327.68,227.15 L328.37,227.25 L329.06,227.35 L329.75,227.45 L330.44,227.54 L331.13,227.64 L331.82,227.73 L332.51,227.82 L333.20,227.91 L333.89,227.99 L334.58,228.07 L335.27,228.16 L335.96,228.24 L336.65,228.31 L337.34,228.39 L338.03,228.47 L338.72,228.54 L339.41,228.61 L340.10,228.68 L340.79,228.75 L341.48,228.82 L342.17,228.88 L342.86,228.95 L343.56,229.01 L344.25,229.07 L344.94,229.13 L345.63,229.19 L346.32,229.25 L347.01,229.31 L347.70,229.36 L348.39,229.42 L349.08,229.47 L349.77,229.52 L350.46,229.58 L351.15,229.63 L351.84,229.68 L352.53,229.73 L353.22,229.77 L353.91,229.82 L354.60,229.87 L355.29,229.91 L355.98,229.96 L356.67,230.00 L357.36,230.04 L358.05,230.09 L358.74,230.13 L359.43,230.17 L360.12,230.21 L360.81,230.25 L361.50,230.28 L362.19,230.32 L362.88,230.36 L363.57,230.40 L364.26,230.43 L364.95,230.47 L365.64,230.50 L366.33,230.54 L367.02,230.57 L367.71,230.60 L368.40,230.63 L369.09,230.67 L369.78,230.70 L370.47,230.73 L371.17,230.76 L371.86,230.79 L372.55,230.82 L373.24,230.85 L373.93,230.87 L374.62,230.90 L375.31,230.93 L376.00,230.96 L376.69,230.98 L377.38,231.01 L378.07,231.03 L378.76,231.06 L379.45,231.09 L380.14,231.11 L380.83,231.13 L381.52,231.16 L382.21,231.18 L382.90,231.20 L383.59,231.23 L384.28,231.25 L384.97,231.27 L385.66,231.29 L386.35,231.31 L387.04,231.34 L387.73,231.36 L388.42,231.38 L389.11,231.40 L389.80,231.42 L390.49,231.44 L391.18,231.46 L391.87,231.48 L392.56,231.49 L393.25,231.51 L393.94,231.53 L394.63,231.55 L395.32,231.57 L396.01,231.58 L396.70,231.60 L397.39,231.62 L398.08,231.64 L398.78,231.65 L399.47,231.67 L400.16,231.68 L400.85,231.70 L401.54,231.72 L402.23,231.73 L402.92,231.75 L403.61,231.76 L404.30,231.78 L404.99,231.79 L405.68,231.81 L406.37,231.82 L407.06,231.83 L407.75,231.85 L408.44,231.86 L409.13,231.88 L409.82,231.89 L410.51,231.90 L411.20,231.92 L411.89,231.93 L412.58,231.94 L413.27,231.95 L413.96,231.97 L414.65,231.98 L415.34,231.99 L416.03,232.00 L416.72,232.01 L417.41,232.03 L418.10,232.04 L418.79,232.05 L419.48,232.06 L420.17,232.07 L420.86,232.08 L421.55,232.09 L422.24,232.10 L422.93,232.11 L423.62,232.13 L424.31,232.14 L425.00,232.15 L425.69,232.16 L426.39,232.17 L427.08,232.18 L427.77,232.19 L428.46,232.20 L429.15,232.21 L429.84,232.21 L430.53,232.22 L431.22,232.23 L431.91,232.24 L432.60,232.25 L433.29,232.26 L433.98,232.27 L434.67,232.28 L435.36,232.29 L436.05,232.30 L436.74,232.30 L437.43,232.31 L438.12,232.32 L438.81,232.33 L439.50,232.34 L439.50,233.45 L268.14,233.45 Z" fill="#D95F02" fill-opacity="0.25" stroke="none"/>
<path d="M271.89,232.91 L271.98,232.83 L272.06,232.75 L272.15,232.66 L272.23,232.57 L272.32,232.47 L272.40,232.36 L272.49,232.25 L272.57,232.13 L272.66,232.00 L272.74,231.87 L272.83,231.73 L272.91,231.59 L273.00,231.44 L273.09,231.29 L273.17,231.13 L273.26,230.96 L273.34,230.79 L273.43,230.62 L273.51,230.44 L273.60,230.26 L273.68,230.07 L273.77,229.88 L273.85,229.69 L273.94,229.50 L274.02,229.30 L274.11,229.10 L274.19,228.89 L274.28,228.69 L274.36,228.48 L274.45,228.27 L274.53,228.06 L274.62,227.85 L274.70,227.63 L274.79,227.42 L274.87,227.20 L274.96,226.99 L275.04,226.77 L275.13,226.56 L275.22,226.34 L275.30,226.13 L275.39,225.92 L275.47,225.70 L275.56,225.49 L275.64,225.28 L275.73,225.07 L275.81,224.86 L275.90,224.65 L275.98,224.44 L276.07,224.24 L276.15,224.03 L276.24,223.83 L276.32,223.63 L276.41,223.43 L276.49,223.24 L276.58,223.04 L276.66,222.85 L276.75,222.66 L276.83,222.47 L276.92,222.29 L277.00,222.10 L277.09,221.92 L277.18,221.75 L277.26,221.57 L277.35,221.40 L277.43,221.23 L277.52,221.06 L277.60,220.89 L277.69,220.73 L277.77,220.57 L277.86,220.41 L277.94,220.26 L278.03,220.10 L278.11,219.96 L278.20,219.81 L278.28,219.66 L278.37,219.52 L278.45,219.38 L278.54,219.25 L278.62,219.11 L278.71,218.98 L278.79,218.85 L278.88,218.73 L278.96,218.60 L279.05,218.48 L279.13,218.37 L279.22,218.25 L279.31,218.14 L279.39,218.03 L279.48,217.92 L279.56,217.81 L279.65,217.71 L279.73,217.61 L279.82,217.51 L279.90,217.42 L279.99,217.32 L280.07,217.23 L280.16,217.14 L280.24,217.06 L280.33,216.97 L280.41,216.89 L280.50,216.81 L280.58,216.73 L280.67,216.66 L280.75,216.59 L280.84,216.51 L280.92,216.44 L281.01,216.38 L281.09,216.31 L281.18,216.25 L281.26,216.19 L281.35,216.13 L281.44,216.07 L281.52,216.02 L281.61,215.96 L281.69,215.91 L281.78,215.86 L281.86,215.81 L281.95,215.77 L282.03,215.72 L282.12,215.68 L282.20,215.64 L282.29,215.60 L282.37,215.56 L282.46,215.52 L282.54,215.49 L282.63,215.46 L282.71,215.42 L282.80,215.39 L282.88,215.36 L282.97,215.34 L283.05,215.31 L283.14,215.29 L283.22,215.26 L283.31,215.24 L283.40,215.22 L283.48,215.20 L283.57,215.18 L283.65,215.16 L283.74,215.15 L283.82,215.13 L283.91,215.12 L283.99,215.11 L284.08,215.10 L284.16,215.09 L284.25,215.08 L284.33,215.07 L284.42,215.06 L284.50,215.06 L284.59,215.05 L284.67,215.05 L284.76,215.05 L284.84,215.05 L284.93,215.04 L285.01,215.04 L285.10,215.05 L285.18,215.05 L285.27,215.05 L285.35,215.05 L285.44,215.06 L285.53,215.06 L285.61,215.07 L285.70,215.08 L285.78,215.08 L285.87,215.09 L285.95,215.10 L286.04,215.11 L286.12,215.12 L286.21,215.13 L286.29,215.14 L286.38,215.16 L286.46,215.17 L286.55,215.18 L286.63,215.20 L286.72,215.21 L286.80,215.23 L286.89,215.24 L286.97,215.26 L287.06,215.28 L287.14,215.29 L287.23,215.31 L287.31,215.33 L287.40,215.35 L287.48,215.37 L287.57,215.39 L287.66,215.41 L287.74,215.43 L287.83,215.45 L287.91,215.48 L288.00,215.50 L288.08,215.52 L288.17,215.54 L288.25,215.57 L288.34,215.59 L288.42,215.62 L288.51,215.64 L288.59,215.67 L288.68,215.69 L288.76,215.72 L288.85,215.74 L288.93,215.77 L289.02,215.80 L289.10,215.83 L289.19,215.85 L289.27,215.88 L289.36,215.91 L289.44,215.94 L289.53,215.97 L289.61,215.99 L289.70,216.02 L289.79,216.05 L289.87,216.08 L289.96,216.11 L290.04,216.14 L290.13,216.17 L290.21,216.20 L290.30,216.23 L290.38,216.27 L290.47,216.30 L290.55,216.33 L290.64,216.36 L290.72,216.39 L290.81,216.42 L290.89,216.46 L290.98,216.49 L291.06,216.52 L291.15,216.55 L291.23,216.59 L291.32,216.62 L291.40,216.65 L291.49,216.68 L291.57,216.72 L291.66,216.75 L291.75,216.78 L291.83,216.82 L291.92,216.85 L292.00,216.89 L292.09,216.92 L292.17,216.95 L292.26,216.99 L292.34,217.02 L292.43,217.06 L292.51,217.09 L292.60,217.13 L292.68,217.16 L292.77,217.19 L292.85,217.23 L292.94,217.26 L293.02,217.30 L293.11,217.33 L293.19,217.37 L293.28,217.40 L293.36,217.44 L293.45,217.47 L293.53,217.51 L293.62,217.54 L293.70,217.58 L293.79,217.61 L293.88,217.65 L293.96,217.68 L294.05,217.72 L294.13,217.76 L294.22,217.79 L294.30,217.83 L294.39,217.86 L294.47,217.90 L294.56,217.93 L294.64,217.97 L294.73,218.00 L294.81,218.04 L294.90,218.07 L294.98,218.11 L295.07,218.14 L295.15,218.18 L295.24,218.22 L295.32,218.25 L295.41,218.29 L295.49,218.32 L295.58,218.36 L295.66,218.39 L295.75,218.43 L295.83,218.46 L295.92,218.50 L296.01,218.53 L296.09,218.57 L296.18,218.60 L296.26,218.64 L296.35,218.67 L296.43,218.71 L296.52,218.74 L296.60,218.78 L296.69,218.81 L296.77,218.85 L296.86,218.88 L296.94,218.92 L297.03,218.95 L297.11,218.99 L297.20,219.02 L297.28,219.06 L297.37,219.09 L297.45,219.13 L297.54,219.16 L297.62,219.20 L297.71,219.23 L297.79,219.27 L297.88,219.30 L297.96,219.34 L298.05,219.37 L298.14,219.40 L298.22,219.44 L298.31,219.47 L298.39,219.51 L298.48,219.54 L298.56,219.57 L298.65,219.61 L298.73,219.64 L298.82,219.68 L298.90,219.71 L298.99,219.74 L299.07,219.78 L299.16,219.81 L299.24,219.84 L299.33,219.88 L299.41,219.91 L299.50,219.94 L299.58,219.98 L299.67,220.01 L299.75,220.04 L299.84,220.08 L299.92,220.11 L300.01,220.14 L300.10,220.18 L300.18,220.21 L300.27,220.24 L300.35,220.27 L300.44,220.31 L300.52,220.34 L300.61,220.37 L300.69,220.40 L300.78,220.44 L300.86,220.47 L300.95,220.50 L301.03,220.53 L301.12,220.56 L301.20,220.60 L301.29,220.63 L301.37,220.66 L301.46,220.69 L301.54,220.72 L301.63,220.75 L301.71,220.79 L301.80,220.82 L301.88,220.85 L301.97,220.88 L302.05,220.91 L302.14,220.94 L302.83,221.19 L303.52,221.43 L304.21,221.67 L304.90,221.91 L305.59,222.13 L306.28,222.36 L306.97,222.58 L307.66,222.79 L308.35,223.00 L309.04,223.20 L309.73,223.40 L310.42,223.59 L311.11,223.78 L311.80,223.96 L312.49,224.14 L313.18,224.32 L313.87,224.49 L314.56,224.65 L315.25,224.82 L315.95,224.97 L316.64,225.13 L317.33,225.28 L318.02,225.43 L318.71,225.57 L319.40,225.71 L320.09,225.85 L320.78,225.98 L321.47,226.11 L322.16,226.24 L322.85,226.36 L323.54,226.48 L324.23,226.60 L324.92,226.71 L325.61,226.83 L326.30,226.94 L326.99,227.04 L327.68,227.15 L328.37,227.25 L329.06,227.35 L329.75,227.45 L330.44,227.54 L331.13,227.64 L331.82,227.73 L332.51,227.82 L333.20,227.91 L333.89,227.99 L334.58,228.07 L335.27,228.16 L335.96,228.24 L336.65,228.31 L337.34,228.39 L338.03,228.47 L338.72,228.54 L339.41,228.61 L340.10,228.68 L340.79,228.75 L341.48,228.82 L342.17,228.88 L342.86,228.95 L343.56,229.01 L344.25,229.07 L344.94,229.13 L345.63,229.19 L346.32,229.25 L347.01,229.31 L347.70,229.36 L348.39,229.42 L349.08,229.47 L349.77,229.52 L350.46,229.58 L351.15,229.63 L351.84,229.68 L352.53,229.73 L353.22,229.77 L353.91,229.82 L354.60,229.87 L355.29,229.91 L355.98,229.96 L356.67,230.00 L357.36,230.04 L358.05,230.09 L358.74,230.13 L359.43,230.17 L360.12,230.21 L360.81,230.25 L361.50,230.28 L362.19,230.32 L362.88,230.36 L363.57,230.40 L364.26,230.43 L364.95,230.47 L365.64,230.50 L366.33,230.54 L367.02,230.57 L367.71,230.60 L368.40,230.63 L369.09,230.67 L369.78,230.70 L370.47,230.73 L371.17,230.76 L371.86,230.79 L372.55,230.82 L373.24,230.85 L373.93,230.87 L374.62,230.90 L375.31,230.93 L376.00,230.96 L376.69,230.98 L377.38,231.01 L378.07,231.03 L378.76,231.06 L379.45,231.09 L380.14,231.11 L380.83,231.13 L381.52,231.16 L382.21,231.18 L382.90,231.20 L383.59,231.23 L384.28,231.25 L384.97,231.27 L385.66,231.29 L386.35,231.31 L387.04,231.34 L387.73,231.36 L388.42,231.38 L389.11,231.40 L389.80,231.42 L390.49,231.44 L391.18,231.46 L391.87,231.48 L392.56,231.49 L393.25,231.51 L393.94,231.53 L394.63,231.55 L395.32,231.57 L396.01,231.58 L396.70,231.60 L397.39,231.62 L398.08,231.64 L398.78,231.65 L399.47,231.67 L400.16,231.68 L400.85,231.70 L401.54,231.72 L402.23,231.73 L402.92,231.75 L403.61,231.76 L404.30,231.78 L404.99,231.79 L405.68,231.81 L406.37,231.82 L407.06,231.83 L407.75,231.85 L408.44,231.86 L409.13,231.88 L409.82,231.89 L410.51,231.90 L411.20,231.92 L411.89,231.93 L412.58,231.94 L413.27,231.95 L413.96,231.97 L414.65,231.98 L415.34,231.99 L416.03,232.00 L416.72,232.01 L417.41,232.03 L418.10,232.04 L418.79,232.05 L419.48,232.06 L420.17,232.07 L420.86,232.08 L421.55,232.09 L422.24,232.10 L422.93,232.11 L423.62,232.13 L424.31,232.14 L425.00,232.15 L425.69,232.16 L426.39,232.17 L427.08,232.18 L427.77,232.19 L428.46,232.20 L429.15,232.21 L429.84,232.21 L430.53,232.22 L431.22,232.23 L431.91,232.24 L432.60,232.25 L433.29,232.26 L433.98,232.27 L434.67,232.28 L435.36,232.29 L436.05,232.30 L436.74,232.30 L437.43,232.31 L438.12,232.32 L438.81,232.33 L439.50,232.34" fill="none" stroke="#D95F02" stroke-width="1.0" stroke-linejoin="round" stroke-dasharray="4.5 3.0"/>
<path d="M268.14,233.45 L268.23,233.45 L268.31,233.45 L268.40,233.45 L268.48,233.45 L268.57,233.45 L268.65,233.45 L268.74,233.45 L268.83,233.45 L268.91,233.45 L269.00,233.45 L269.08,233.45 L269.17,233.45 L269.25,233.45 L269.34,233.45 L269.42,233.45 L269.51,233.44 L269.59,233.44 L269.68,233.43 L269.76,233.41 L269.85,233.38 L269.93,233.33 L270.02,233.27 L270.10,233.17 L270.19,233.04 L270.27,232.86 L270.36,232.63 L270.44,232.34 L270.53,231.99 L270.61,231.56 L270.70,231.05 L270.78,230.45 L270.87,229.76 L270.96,228.97 L271.04,228.09 L271.13,227.12 L271.21,226.04 L271.30,224.87 L271.38,223.61 L271.47,222.26 L271.55,220.82 L271.64,219.30 L271.72,217.71 L271.81,216.05 L271.89,214.33 L271.98,212.56 L272.06,210.74 L272.15,208.88 L272.23,206.98 L272.32,205.07 L272.40,203.13 L272.49,201.19 L272.57,199.24 L272.66,197.29 L272.74,195.35 L272.83,193.42 L272.91,191.52 L273.00,189.63 L273.09,187.78 L273.17,185.96 L273.26,184.17 L273.34,182.43 L273.43,180.73 L273.51,179.07 L273.60,177.46 L273.68,175.90 L273.77,174.40 L273.85,172.94 L273.94,171.54 L274.02,170.20 L274.11,168.91 L274.19,167.68 L274.28,166.51 L274.36,165.39 L274.45,164.33 L274.53,163.33 L274.62,162.38 L274.70,161.49 L274.79,160.65 L274.87,159.87 L274.96,159.14 L275.04,158.46 L275.13,157.83 L275.22,157.25 L275.30,156.73 L275.39,156.25 L275.47,155.81 L275.56,155.42 L275.64,155.08 L275.73,154.78 L275.81,154.52 L275.90,154.30 L275.98,154.11 L276.07,153.97 L276.15,153.86 L276.24,153.79 L276.32,153.75 L276.41,153.74 L276.49,153.77 L276.58,153.82 L276.66,153.90 L276.75,154.01 L276.83,154.15 L276.92,154.31 L277.00,154.49 L277.09,154.70 L277.18,154.93 L277.26,155.18 L277.35,155.45 L277.43,155.74 L277.52,156.05 L277.60,156.37 L277.69,156.71 L277.77,157.07 L277.86,157.44 L277.94,157.82 L278.03,158.22 L278.11,158.63 L278.20,159.05 L278.28,159.48 L278.37,159.92 L278.45,160.37 L278.54,160.83 L278.62,161.29 L278.71,161.77 L278.79,162.25 L278.88,162.73 L278.96,163.23 L279.05,163.72 L279.13,164.23 L279.22,164.73 L279.31,165.24 L279.39,165.76 L279.48,166.28 L279.56,166.80 L279.65,167.32 L279.73,167.84 L279.82,168.37 L279.90,168.90 L279.99,169.43 L280.07,169.96 L280.16,170.49 L280.24,171.02 L280.33,171.55 L280.41,172.08 L280.50,172.61 L280.58,173.13 L280.67,173.66 L280.75,174.19 L280.84,174.71 L280.92,175.24 L281.01,175.76 L281.09,176.28 L281.18,176.80 L281.26,177.31 L281.35,177.83 L281.44,178.34 L281.52,178.85 L281.61,179.35 L281.69,179.86 L281.78,180.36 L281.86,180.86 L281.95,181.35 L282.03,181.84 L282.12,182.33 L282.20,182.82 L282.29,183.30 L282.37,183.78 L282.46,184.26 L282.54,184.73 L282.63,185.20 L282.71,185.66 L282.80,186.12 L282.88,186.58 L282.97,187.04 L283.05,187.49 L283.14,187.93 L283.22,188.38 L283.31,188.82 L283.40,189.25 L283.48,189.68 L283.57,190.11 L283.65,190.54 L283.74,190.96 L283.82,191.38 L283.91,191.79 L283.99,192.20 L284.08,192.61 L284.16,193.01 L284.25,193.41 L284.33,193.80 L284.42,194.19 L284.50,194.58 L284.59,194.96 L284.67,195.34 L284.76,195.72 L284.84,196.09 L284.93,196.46 L285.01,196.83 L285.10,197.19 L285.18,197.55 L285.27,197.90 L285.35,198.25 L285.44,198.60 L285.53,198.94 L285.61,199.28 L285.70,199.62 L285.78,199.95 L285.87,200.28 L285.95,200.61 L286.04,200.93 L286.12,201.25 L286.21,201.57 L286.29,201.88 L286.38,202.19 L286.46,202.50 L286.55,202.80 L286.63,203.10 L286.72,203.40 L286.80,203.70 L286.89,203.99 L286.97,204.27 L287.06,204.56 L287.14,204.84 L287.23,205.12 L287.31,205.40 L287.40,205.67 L287.48,205.94 L287.57,206.21 L287.66,206.47 L287.74,206.73 L287.83,206.99 L287.91,207.25 L288.00,207.50 L288.08,207.75 L288.17,208.00 L288.25,208.24 L288.34,208.49 L288.42,208.73 L288.51,208.96 L288.59,209.20 L288.68,209.43 L288.76,209.66 L288.85,209.89 L288.93,210.11 L289.02,210.33 L289.10,210.55 L289.19,210.77 L289.27,210.99 L289.36,211.20 L289.44,211.41 L289.53,211.62 L289.61,211.82 L289.70,212.03 L289.79,212.23 L289.87,212.43 L289.96,212.63 L290.04,212.82 L290.13,213.01 L290.21,213.20 L290.30,213.39 L290.38,213.58 L290.47,213.77 L290.55,213.95 L290.64,214.13 L290.72,214.31 L290.81,214.49 L290.89,214.66 L290.98,214.83 L291.06,215.01 L291.15,215.17 L291.23,215.34 L291.32,215.51 L291.40,215.67 L291.49,215.84 L291.57,216.00 L291.66,216.15 L291.75,216.31 L291.83,216.47 L291.92,216.62 L292.00,216.77 L292.09,216.92 L292.17,217.07 L292.26,217.22 L292.34,217.37 L292.43,217.51 L292.51,217.65 L292.60,217.80 L292.68,217.94 L292.77,218.07 L292.85,218.21 L292.94,218.35 L293.02,218.48 L293.11,218.61 L293.19,218.75 L293.28,218.88 L293.36,219.00 L293.45,219.13 L293.53,219.26 L293.62,219.38 L293.70,219.50 L293.79,219.63 L293.88,219.75 L293.96,219.87 L294.05,219.99 L294.13,220.10 L294.22,220.22 L294.30,220.33 L294.39,220.45 L294.47,220.56 L294.56,220.67 L294.64,220.78 L294.73,220.89 L294.81,221.00 L294.90,221.10 L294.98,221.21 L295.07,221.31 L295.15,221.42 L295.24,221.52 L295.32,221.62 L295.41,221.72 L295.49,221.82 L295.58,221.92 L295.66,222.02 L295.75,222.11 L295.83,222.21 L295.92,222.30 L296.01,222.39 L296.09,222.49 L296.18,222.58 L296.26,222.67 L296.35,222.76 L296.43,222.85 L296.52,222.94 L296.60,223.02 L296.69,223.11 L296.77,223.19 L296.86,223.28 L296.94,223.36 L297.03,223.45 L297.11,223.53 L297.20,223.61 L297.28,223.69 L297.37,223.77 L297.45,223.85 L297.54,223.93 L297.62,224.00 L297.71,224.08 L297.79,224.15 L297.88,224.23 L297.96,224.30 L298.05,224.38 L298.14,224.45 L298.22,224.52 L298.31,224.59 L298.39,224.66 L298.48,224.73 L298.56,224.80 L298.65,224.87 L298.73,224.94 L298.82,225.01 L298.90,225.08 L298.99,225.14 L299.07,225.21 L299.16,225.27 L299.24,225.34 L299.33,225.40 L299.41,225.46 L299.50,225.52 L299.58,225.59 L299.67,225.65 L299.75,225.71 L299.84,225.77 L299.92,225.83 L300.01,225.89 L300.10,225.95 L300.18,226.00 L300.27,226.06 L300.35,226.12 L300.44,226.17 L300.52,226.23 L300.61,226.28 L300.69,226.34 L300.78,226.39 L300.86,226.45 L300.95,226.50 L301.03,226.55 L301.12,226.61 L301.20,226.66 L301.29,226.71 L301.37,226.76 L301.46,226.81 L301.54,226.86 L301.63,226.91 L301.71,226.96 L301.80,227.01 L301.88,227.05 L301.97,227.10 L302.05,227.15 L302.14,227.20 L302.83,227.56 L303.52,227.90 L304.21,228.21 L304.90,228.51 L305.59,228.78 L306.28,229.03 L306.97,229.27 L307.66,229.49 L308.35,229.70 L309.04,229.90 L309.73,230.08 L310.42,230.25 L311.11,230.41 L311.80,230.56 L312.49,230.70 L313.18,230.84 L313.87,230.96 L314.56,231.08 L315.25,231.19 L315.95,231.29 L316.64,231.39 L317.33,231.49 L318.02,231.57 L318.71,231.66 L319.40,231.74 L320.09,231.81 L320.78,231.88 L321.47,231.95 L322.16,232.01 L322.85,232.07 L323.54,232.13 L324.23,232.18 L324.92,232.23 L325.61,232.28 L326.30,232.33 L326.99,232.37 L327.68,232.41 L328.37,232.45 L329.06,232.49 L329.75,232.53 L330.44,232.56 L331.13,232.60 L331.82,232.63 L332.51,232.66 L333.20,232.69 L333.89,232.71 L334.58,232.74 L335.27,232.76 L335.96,232.79 L336.65,232.81 L337.34,232.83 L338.03,232.85 L338.72,232.87 L339.41,232.89 L340.10,232.91 L340.79,232.93 L341.48,232.95 L342.17,232.96 L342.86,232.98 L343.56,232.99 L344.25,233.01 L344.94,233.02 L345.63,233.04 L346.32,233.05 L347.01,233.06 L347.70,233.07 L348.39,233.08 L349.08,233.09 L349.77,233.11 L350.46,233.12 L351.15,233.13 L351.84,233.14 L352.53,233.14 L353.22,233.15 L353.91,233.16 L354.60,233.17 L355.29,233.18 L355.98,233.19 L356.67,233.19 L357.36,233.20 L358.05,233.21 L358.74,233.21 L359.43,233.22 L360.12,233.23 L360.81,233.23 L361.50,233.24 L362.19,233.24 L362.88,233.25 L363.57,233.25 L364.26,233.26 L364.95,233.26 L365.64,233.27 L366.33,233.27 L367.02,233.28 L367.71,233.28 L368.40,233.29 L369.09,233.29 L369.78,233.29 L370.47,233.30 L371.17,233.30 L371.86,233.31 L372.55,233.31 L373.24,233.31 L373.93,233.32 L374.62,233.32 L375.31,233.32 L376.00,233.32 L376.69,233.33 L377.38,233.33 L378.07,233.33 L378.76,233.34 L379.45,233.34 L380.14,233.34 L380.83,233.34 L381.52,233.35 L382.21,233.35 L382.90,233.35 L383.59,233.35 L384.28,233.35 L384.97,233.36 L385.66,233.36 L386.35,233.36 L387.04,233.36 L387.73,233.36 L388.42,233.37 L389.11,233.37 L389.80,233.37 L390.49,233.37 L391.18,233.37 L391.87,233.37 L392.56,233.38 L393.25,233.38 L393.94,233.38 L394.63,233.38 L395.32,233.38 L396.01,233.38 L396.70,233.38 L397.39,233.39 L398.08,233.39 L398.78,233.39 L399.47,233.39 L400.16,233.39 L400.85,233.39 L401.54,233.39 L402.23,233.39 L402.92,233.39 L403.61,233.40 L404.30,233.40 L404.99,233.40 L405.68,233.40 L406.37,233.40 L407.06,233.40 L407.75,233.40 L408.44,233.40 L409.13,233.40 L409.82,233.40 L410.51,233.41 L411.20,233.41 L411.89,233.41 L412.58,233.41 L413.27,233.41 L413.96,233.41 L414.65,233.41 L415.34,233.41 L416.03,233.41 L416.72,233.41 L417.41,233.41 L418.10,233.41 L418.79,233.41 L419.48,233.41 L420.17,233.41 L420.86,233.42 L421.55,233.42 L422.24,233.42 L422.93,233.42 L423.62,233.42 L424.31,233.42 L425.00,233.42 L425.69,233.42 L426.39,233.42 L427.08,233.42 L427.77,233.42 L428.46,233.42 L429.15,233.42 L429.84,233.42 L430.53,233.42 L431.22,233.42 L431.91,233.42 L432.60,233.42 L433.29,233.42 L433.98,233.42 L434.67,233.43 L435.36,233.43 L436.05,233.43 L436.74,233.43 L437.43,233.43 L438.12,233.43 L438.81,233.43 L439.50,233.43 L439.50,233.45 L268.14,233.45 Z" fill="#1B9E77" fill-opacity="0.26" stroke="none"/>
<path d="M270.27,232.86 L270.36,232.63 L270.44,232.34 L270.53,231.99 L270.61,231.56 L270.70,231.05 L270.78,230.45 L270.87,229.76 L270.96,228.97 L271.04,228.09 L271.13,227.12 L271.21,226.04 L271.30,224.87 L271.38,223.61 L271.47,222.26 L271.55,220.82 L271.64,219.30 L271.72,217.71 L271.81,216.05 L271.89,214.33 L271.98,212.56 L272.06,210.74 L272.15,208.88 L272.23,206.98 L272.32,205.07 L272.40,203.13 L272.49,201.19 L272.57,199.24 L272.66,197.29 L272.74,195.35 L272.83,193.42 L272.91,191.52 L273.00,189.63 L273.09,187.78 L273.17,185.96 L273.26,184.17 L273.34,182.43 L273.43,180.73 L273.51,179.07 L273.60,177.46 L273.68,175.90 L273.77,174.40 L273.85,172.94 L273.94,171.54 L274.02,170.20 L274.11,168.91 L274.19,167.68 L274.28,166.51 L274.36,165.39 L274.45,164.33 L274.53,163.33 L274.62,162.38 L274.70,161.49 L274.79,160.65 L274.87,159.87 L274.96,159.14 L275.04,158.46 L275.13,157.83 L275.22,157.25 L275.30,156.73 L275.39,156.25 L275.47,155.81 L275.56,155.42 L275.64,155.08 L275.73,154.78 L275.81,154.52 L275.90,154.30 L275.98,154.11 L276.07,153.97 L276.15,153.86 L276.24,153.79 L276.32,153.75 L276.41,153.74 L276.49,153.77 L276.58,153.82 L276.66,153.90 L276.75,154.01 L276.83,154.15 L276.92,154.31 L277.00,154.49 L277.09,154.70 L277.18,154.93 L277.26,155.18 L277.35,155.45 L277.43,155.74 L277.52,156.05 L277.60,156.37 L277.69,156.71 L277.77,157.07 L277.86,157.44 L277.94,157.82 L278.03,158.22 L278.11,158.63 L278.20,159.05 L278.28,159.48 L278.37,159.92 L278.45,160.37 L278.54,160.83 L278.62,161.29 L278.71,161.77 L278.79,162.25 L278.88,162.73 L278.96,163.23 L279.05,163.72 L279.13,164.23 L279.22,164.73 L279.31,165.24 L279.39,165.76 L279.48,166.28 L279.56,166.80 L279.65,167.32 L279.73,167.84 L279.82,168.37 L279.90,168.90 L279.99,169.43 L280.07,169.96 L280.16,170.49 L280.24,171.02 L280.33,171.55 L280.41,172.08 L280.50,172.61 L280.58,173.13 L280.67,173.66 L280.75,174.19 L280.84,174.71 L280.92,175.24 L281.01,175.76 L281.09,176.28 L281.18,176.80 L281.26,177.31 L281.35,177.83 L281.44,178.34 L281.52,178.85 L281.61,179.35 L281.69,179.86 L281.78,180.36 L281.86,180.86 L281.95,181.35 L282.03,181.84 L282.12,182.33 L282.20,182.82 L282.29,183.30 L282.37,183.78 L282.46,184.26 L282.54,184.73 L282.63,185.20 L282.71,185.66 L282.80,186.12 L282.88,186.58 L282.97,187.04 L283.05,187.49 L283.14,187.93 L283.22,188.38 L283.31,188.82 L283.40,189.25 L283.48,189.68 L283.57,190.11 L283.65,190.54 L283.74,190.96 L283.82,191.38 L283.91,191.79 L283.99,192.20 L284.08,192.61 L284.16,193.01 L284.25,193.41 L284.33,193.80 L284.42,194.19 L284.50,194.58 L284.59,194.96 L284.67,195.34 L284.76,195.72 L284.84,196.09 L284.93,196.46 L285.01,196.83 L285.10,197.19 L285.18,197.55 L285.27,197.90 L285.35,198.25 L285.44,198.60 L285.53,198.94 L285.61,199.28 L285.70,199.62 L285.78,199.95 L285.87,200.28 L285.95,200.61 L286.04,200.93 L286.12,201.25 L286.21,201.57 L286.29,201.88 L286.38,202.19 L286.46,202.50 L286.55,202.80 L286.63,203.10 L286.72,203.40 L286.80,203.70 L286.89,203.99 L286.97,204.27 L287.06,204.56 L287.14,204.84 L287.23,205.12 L287.31,205.40 L287.40,205.67 L287.48,205.94 L287.57,206.21 L287.66,206.47 L287.74,206.73 L287.83,206.99 L287.91,207.25 L288.00,207.50 L288.08,207.75 L288.17,208.00 L288.25,208.24 L288.34,208.49 L288.42,208.73 L288.51,208.96 L288.59,209.20 L288.68,209.43 L288.76,209.66 L288.85,209.89 L288.93,210.11 L289.02,210.33 L289.10,210.55 L289.19,210.77 L289.27,210.99 L289.36,211.20 L289.44,211.41 L289.53,211.62 L289.61,211.82 L289.70,212.03 L289.79,212.23 L289.87,212.43 L289.96,212.63 L290.04,212.82 L290.13,213.01 L290.21,213.20 L290.30,213.39 L290.38,213.58 L290.47,213.77 L290.55,213.95 L290.64,214.13 L290.72,214.31 L290.81,214.49 L290.89,214.66 L290.98,214.83 L291.06,215.01 L291.15,215.17 L291.23,215.34 L291.32,215.51 L291.40,215.67 L291.49,215.84 L291.57,216.00 L291.66,216.15 L291.75,216.31 L291.83,216.47 L291.92,216.62 L292.00,216.77 L292.09,216.92 L292.17,217.07 L292.26,217.22 L292.34,217.37 L292.43,217.51 L292.51,217.65 L292.60,217.80 L292.68,217.94 L292.77,218.07 L292.85,218.21 L292.94,218.35 L293.02,218.48 L293.11,218.61 L293.19,218.75 L293.28,218.88 L293.36,219.00 L293.45,219.13 L293.53,219.26 L293.62,219.38 L293.70,219.50 L293.79,219.63 L293.88,219.75 L293.96,219.87 L294.05,219.99 L294.13,220.10 L294.22,220.22 L294.30,220.33 L294.39,220.45 L294.47,220.56 L294.56,220.67 L294.64,220.78 L294.73,220.89 L294.81,221.00 L294.90,221.10 L294.98,221.21 L295.07,221.31 L295.15,221.42 L295.24,221.52 L295.32,221.62 L295.41,221.72 L295.49,221.82 L295.58,221.92 L295.66,222.02 L295.75,222.11 L295.83,222.21 L295.92,222.30 L296.01,222.39 L296.09,222.49 L296.18,222.58 L296.26,222.67 L296.35,222.76 L296.43,222.85 L296.52,222.94 L296.60,223.02 L296.69,223.11 L296.77,223.19 L296.86,223.28 L296.94,223.36 L297.03,223.45 L297.11,223.53 L297.20,223.61 L297.28,223.69 L297.37,223.77 L297.45,223.85 L297.54,223.93 L297.62,224.00 L297.71,224.08 L297.79,224.15 L297.88,224.23 L297.96,224.30 L298.05,224.38 L298.14,224.45 L298.22,224.52 L298.31,224.59 L298.39,224.66 L298.48,224.73 L298.56,224.80 L298.65,224.87 L298.73,224.94 L298.82,225.01 L298.90,225.08 L298.99,225.14 L299.07,225.21 L299.16,225.27 L299.24,225.34 L299.33,225.40 L299.41,225.46 L299.50,225.52 L299.58,225.59 L299.67,225.65 L299.75,225.71 L299.84,225.77 L299.92,225.83 L300.01,225.89 L300.10,225.95 L300.18,226.00 L300.27,226.06 L300.35,226.12 L300.44,226.17 L300.52,226.23 L300.61,226.28 L300.69,226.34 L300.78,226.39 L300.86,226.45 L300.95,226.50 L301.03,226.55 L301.12,226.61 L301.20,226.66 L301.29,226.71 L301.37,226.76 L301.46,226.81 L301.54,226.86 L301.63,226.91 L301.71,226.96 L301.80,227.01 L301.88,227.05 L301.97,227.10 L302.05,227.15 L302.14,227.20 L302.83,227.56 L303.52,227.90 L304.21,228.21 L304.90,228.51 L305.59,228.78 L306.28,229.03 L306.97,229.27 L307.66,229.49 L308.35,229.70 L309.04,229.90 L309.73,230.08 L310.42,230.25 L311.11,230.41 L311.80,230.56 L312.49,230.70 L313.18,230.84 L313.87,230.96 L314.56,231.08 L315.25,231.19 L315.95,231.29 L316.64,231.39 L317.33,231.49 L318.02,231.57 L318.71,231.66 L319.40,231.74 L320.09,231.81 L320.78,231.88 L321.47,231.95 L322.16,232.01 L322.85,232.07 L323.54,232.13 L324.23,232.18 L324.92,232.23 L325.61,232.28 L326.30,232.33 L326.99,232.37 L327.68,232.41 L328.37,232.45 L329.06,232.49 L329.75,232.53 L330.44,232.56 L331.13,232.60 L331.82,232.63 L332.51,232.66 L333.20,232.69 L333.89,232.71 L334.58,232.74 L335.27,232.76 L335.96,232.79 L336.65,232.81 L337.34,232.83 L338.03,232.85 L338.72,232.87 L339.41,232.89 L340.10,232.91 L340.79,232.93 L341.48,232.95" fill="none" stroke="#1B9E77" stroke-width="1.1" stroke-linejoin="round" stroke-dasharray="1.25 2.08"/>
<path d="M268.14,233.45 L268.23,233.45 L268.31,233.45 L268.40,233.45 L268.48,233.45 L268.57,233.45 L268.65,233.44 L268.74,233.41 L268.83,233.31 L268.91,233.08 L269.00,232.61 L269.08,231.80 L269.17,230.50 L269.25,228.61 L269.34,226.02 L269.42,222.68 L269.51,218.57 L269.59,213.69 L269.68,208.10 L269.76,201.87 L269.85,195.10 L269.93,187.91 L270.02,180.40 L270.10,172.70 L270.19,164.91 L270.27,157.13 L270.36,149.47 L270.44,142.00 L270.53,134.79 L270.61,127.90 L270.70,121.37 L270.78,115.25 L270.87,109.55 L270.96,104.30 L271.04,99.50 L271.13,95.15 L271.21,91.25 L271.30,87.80 L271.38,84.78 L271.47,82.17 L271.55,79.97 L271.64,78.15 L271.72,76.69 L271.81,75.57 L271.89,74.77 L271.98,74.27 L272.06,74.05 L272.15,74.08 L272.23,74.36 L272.32,74.85 L272.40,75.55 L272.49,76.43 L272.57,77.47 L272.66,78.67 L272.74,80.00 L272.83,81.45 L272.91,83.02 L273.00,84.67 L273.09,86.42 L273.17,88.23 L273.26,90.11 L273.34,92.05 L273.43,94.03 L273.51,96.05 L273.60,98.10 L273.68,100.18 L273.77,102.27 L273.85,104.38 L273.94,106.50 L274.02,108.62 L274.11,110.74 L274.19,112.85 L274.28,114.96 L274.36,117.06 L274.45,119.14 L274.53,121.21 L274.62,123.26 L274.70,125.29 L274.79,127.30 L274.87,129.28 L274.96,131.24 L275.04,133.18 L275.13,135.09 L275.22,136.97 L275.30,138.82 L275.39,140.65 L275.47,142.44 L275.56,144.21 L275.64,145.95 L275.73,147.65 L275.81,149.33 L275.90,150.97 L275.98,152.59 L276.07,154.18 L276.15,155.73 L276.24,157.26 L276.32,158.76 L276.41,160.23 L276.49,161.66 L276.58,163.07 L276.66,164.46 L276.75,165.81 L276.83,167.14 L276.92,168.44 L277.00,169.71 L277.09,170.96 L277.18,172.18 L277.26,173.37 L277.35,174.54 L277.43,175.69 L277.52,176.81 L277.60,177.91 L277.69,178.98 L277.77,180.03 L277.86,181.06 L277.94,182.07 L278.03,183.05 L278.11,184.02 L278.20,184.96 L278.28,185.88 L278.37,186.79 L278.45,187.67 L278.54,188.53 L278.62,189.38 L278.71,190.21 L278.79,191.02 L278.88,191.81 L278.96,192.59 L279.05,193.35 L279.13,194.09 L279.22,194.82 L279.31,195.53 L279.39,196.23 L279.48,196.91 L279.56,197.58 L279.65,198.23 L279.73,198.87 L279.82,199.49 L279.90,200.11 L279.99,200.71 L280.07,201.29 L280.16,201.87 L280.24,202.43 L280.33,202.98 L280.41,203.52 L280.50,204.05 L280.58,204.57 L280.67,205.07 L280.75,205.57 L280.84,206.05 L280.92,206.53 L281.01,206.99 L281.09,207.45 L281.18,207.90 L281.26,208.33 L281.35,208.76 L281.44,209.18 L281.52,209.59 L281.61,210.00 L281.69,210.39 L281.78,210.78 L281.86,211.16 L281.95,211.53 L282.03,211.89 L282.12,212.25 L282.20,212.60 L282.29,212.94 L282.37,213.28 L282.46,213.61 L282.54,213.93 L282.63,214.25 L282.71,214.56 L282.80,214.86 L282.88,215.16 L282.97,215.46 L283.05,215.74 L283.14,216.02 L283.22,216.30 L283.31,216.57 L283.40,216.84 L283.48,217.10 L283.57,217.35 L283.65,217.60 L283.74,217.85 L283.82,218.09 L283.91,218.33 L283.99,218.56 L284.08,218.79 L284.16,219.01 L284.25,219.23 L284.33,219.45 L284.42,219.66 L284.50,219.87 L284.59,220.07 L284.67,220.27 L284.76,220.47 L284.84,220.66 L284.93,220.85 L285.01,221.04 L285.10,221.22 L285.18,221.40 L285.27,221.58 L285.35,221.75 L285.44,221.92 L285.53,222.09 L285.61,222.25 L285.70,222.41 L285.78,222.57 L285.87,222.73 L285.95,222.88 L286.04,223.03 L286.12,223.18 L286.21,223.32 L286.29,223.46 L286.38,223.60 L286.46,223.74 L286.55,223.88 L286.63,224.01 L286.72,224.14 L286.80,224.27 L286.89,224.40 L286.97,224.52 L287.06,224.64 L287.14,224.76 L287.23,224.88 L287.31,225.00 L287.40,225.11 L287.48,225.22 L287.57,225.33 L287.66,225.44 L287.74,225.55 L287.83,225.65 L287.91,225.76 L288.00,225.86 L288.08,225.96 L288.17,226.06 L288.25,226.15 L288.34,226.25 L288.42,226.34 L288.51,226.44 L288.59,226.53 L288.68,226.62 L288.76,226.70 L288.85,226.79 L288.93,226.88 L289.02,226.96 L289.10,227.04 L289.19,227.12 L289.27,227.20 L289.36,227.28 L289.44,227.36 L289.53,227.44 L289.61,227.51 L289.70,227.58 L289.79,227.66 L289.87,227.73 L289.96,227.80 L290.04,227.87 L290.13,227.94 L290.21,228.01 L290.30,228.07 L290.38,228.14 L290.47,228.20 L290.55,228.27 L290.64,228.33 L290.72,228.39 L290.81,228.45 L290.89,228.51 L290.98,228.57 L291.06,228.63 L291.15,228.68 L291.23,228.74 L291.32,228.80 L291.40,228.85 L291.49,228.90 L291.57,228.96 L291.66,229.01 L291.75,229.06 L291.83,229.11 L291.92,229.16 L292.00,229.21 L292.09,229.26 L292.17,229.31 L292.26,229.36 L292.34,229.40 L292.43,229.45 L292.51,229.49 L292.60,229.54 L292.68,229.58 L292.77,229.63 L292.85,229.67 L292.94,229.71 L293.02,229.75 L293.11,229.80 L293.19,229.84 L293.28,229.88 L293.36,229.92 L293.45,229.95 L293.53,229.99 L293.62,230.03 L293.70,230.07 L293.79,230.10 L293.88,230.14 L293.96,230.18 L294.05,230.21 L294.13,230.25 L294.22,230.28 L294.30,230.32 L294.39,230.35 L294.47,230.38 L294.56,230.42 L294.64,230.45 L294.73,230.48 L294.81,230.51 L294.90,230.54 L294.98,230.57 L295.07,230.60 L295.15,230.63 L295.24,230.66 L295.32,230.69 L295.41,230.72 L295.49,230.75 L295.58,230.78 L295.66,230.80 L295.75,230.83 L295.83,230.86 L295.92,230.88 L296.01,230.91 L296.09,230.94 L296.18,230.96 L296.26,230.99 L296.35,231.01 L296.43,231.04 L296.52,231.06 L296.60,231.08 L296.69,231.11 L296.77,231.13 L296.86,231.15 L296.94,231.18 L297.03,231.20 L297.11,231.22 L297.20,231.24 L297.28,231.27 L297.37,231.29 L297.45,231.31 L297.54,231.33 L297.62,231.35 L297.71,231.37 L297.79,231.39 L297.88,231.41 L297.96,231.43 L298.05,231.45 L298.14,231.47 L298.22,231.49 L298.31,231.51 L298.39,231.53 L298.48,231.54 L298.56,231.56 L298.65,231.58 L298.73,231.60 L298.82,231.61 L298.90,231.63 L298.99,231.65 L299.07,231.67 L299.16,231.68 L299.24,231.70 L299.33,231.72 L299.41,231.73 L299.50,231.75 L299.58,231.76 L299.67,231.78 L299.75,231.79 L299.84,231.81 L299.92,231.82 L300.01,231.84 L300.10,231.85 L300.18,231.87 L300.27,231.88 L300.35,231.90 L300.44,231.91 L300.52,231.92 L300.61,231.94 L300.69,231.95 L300.78,231.97 L300.86,231.98 L300.95,231.99 L301.03,232.00 L301.12,232.02 L301.20,232.03 L301.29,232.04 L301.37,232.06 L301.46,232.07 L301.54,232.08 L301.63,232.09 L301.71,232.10 L301.80,232.12 L301.88,232.13 L301.97,232.14 L302.05,232.15 L302.14,232.16 L302.83,232.25 L303.52,232.33 L304.21,232.40 L304.90,232.47 L305.59,232.53 L306.28,232.59 L306.97,232.64 L307.66,232.69 L308.35,232.73 L309.04,232.78 L309.73,232.82 L310.42,232.85 L311.11,232.89 L311.80,232.92 L312.49,232.95 L313.18,232.97 L313.87,233.00 L314.56,233.02 L315.25,233.04 L315.95,233.06 L316.64,233.08 L317.33,233.10 L318.02,233.12 L318.71,233.14 L319.40,233.15 L320.09,233.17 L320.78,233.18 L321.47,233.19 L322.16,233.20 L322.85,233.21 L323.54,233.23 L324.23,233.24 L324.92,233.24 L325.61,233.25 L326.30,233.26 L326.99,233.27 L327.68,233.28 L328.37,233.28 L329.06,233.29 L329.75,233.30 L330.44,233.30 L331.13,233.31 L331.82,233.32 L332.51,233.32 L333.20,233.33 L333.89,233.33 L334.58,233.34 L335.27,233.34 L335.96,233.34 L336.65,233.35 L337.34,233.35 L338.03,233.35 L338.72,233.36 L339.41,233.36 L340.10,233.36 L340.79,233.37 L341.48,233.37 L342.17,233.37 L342.86,233.38 L343.56,233.38 L344.25,233.38 L344.94,233.38 L345.63,233.39 L346.32,233.39 L347.01,233.39 L347.70,233.39 L348.39,233.39 L349.08,233.40 L349.77,233.40 L350.46,233.40 L351.15,233.40 L351.84,233.40 L352.53,233.40 L353.22,233.40 L353.91,233.41 L354.60,233.41 L355.29,233.41 L355.98,233.41 L356.67,233.41 L357.36,233.41 L358.05,233.41 L358.74,233.41 L359.43,233.42 L360.12,233.42 L360.81,233.42 L361.50,233.42 L362.19,233.42 L362.88,233.42 L363.57,233.42 L364.26,233.42 L364.95,233.42 L365.64,233.42 L366.33,233.42 L367.02,233.42 L367.71,233.43 L368.40,233.43 L369.09,233.43 L369.78,233.43 L370.47,233.43 L371.17,233.43 L371.86,233.43 L372.55,233.43 L373.24,233.43 L373.93,233.43 L374.62,233.43 L375.31,233.43 L376.00,233.43 L376.69,233.43 L377.38,233.43 L378.07,233.43 L378.76,233.43 L379.45,233.43 L380.14,233.43 L380.83,233.43 L381.52,233.43 L382.21,233.44 L382.90,233.44 L383.59,233.44 L384.28,233.44 L384.97,233.44 L385.66,233.44 L386.35,233.44 L387.04,233.44 L387.73,233.44 L388.42,233.44 L389.11,233.44 L389.80,233.44 L390.49,233.44 L391.18,233.44 L391.87,233.44 L392.56,233.44 L393.25,233.44 L393.94,233.44 L394.63,233.44 L395.32,233.44 L396.01,233.44 L396.70,233.44 L397.39,233.44 L398.08,233.44 L398.78,233.44 L399.47,233.44 L400.16,233.44 L400.85,233.44 L401.54,233.44 L402.23,233.44 L402.92,233.44 L403.61,233.44 L404.30,233.44 L404.99,233.44 L405.68,233.44 L406.37,233.44 L407.06,233.44 L407.75,233.44 L408.44,233.44 L409.13,233.44 L409.82,233.44 L410.51,233.44 L411.20,233.44 L411.89,233.44 L412.58,233.44 L413.27,233.44 L413.96,233.44 L414.65,233.44 L415.34,233.44 L416.03,233.44 L416.72,233.44 L417.41,233.44 L418.10,233.44 L418.79,233.44 L419.48,233.45 L420.17,233.45 L420.86,233.45 L421.55,233.45 L422.24,233.45 L422.93,233.45 L423.62,233.45 L424.31,233.45 L425.00,233.45 L425.69,233.45 L426.39,233.45 L427.08,233.45 L427.77,233.45 L428.46,233.45 L429.15,233.45 L429.84,233.45 L430.53,233.45 L431.22,233.45 L431.91,233.45 L432.60,233.45 L433.29,233.45 L433.98,233.45 L434.67,233.45 L435.36,233.45 L436.05,233.45 L436.74,233.45 L437.43,233.45 L438.12,233.45 L438.81,233.45 L439.50,233.45 L439.50,233.45 L268.14,233.45 Z" fill="#E7298A" fill-opacity="0.3" stroke="none"/>
<path d="M269.00,232.61 L269.08,231.80 L269.17,230.50 L269.25,228.61 L269.34,226.02 L269.42,222.68 L269.51,218.57 L269.59,213.69 L269.68,208.10 L269.76,201.87 L269.85,195.10 L269.93,187.91 L270.02,180.40 L270.10,172.70 L270.19,164.91 L270.27,157.13 L270.36,149.47 L270.44,142.00 L270.53,134.79 L270.61,127.90 L270.70,121.37 L270.78,115.25 L270.87,109.55 L270.96,104.30 L271.04,99.50 L271.13,95.15 L271.21,91.25 L271.30,87.80 L271.38,84.78 L271.47,82.17 L271.55,79.97 L271.64,78.15 L271.72,76.69 L271.81,75.57 L271.89,74.77 L271.98,74.27 L272.06,74.05 L272.15,74.08 L272.23,74.36 L272.32,74.85 L272.40,75.55 L272.49,76.43 L272.57,77.47 L272.66,78.67 L272.74,80.00 L272.83,81.45 L272.91,83.02 L273.00,84.67 L273.09,86.42 L273.17,88.23 L273.26,90.11 L273.34,92.05 L273.43,94.03 L273.51,96.05 L273.60,98.10 L273.68,100.18 L273.77,102.27 L273.85,104.38 L273.94,106.50 L274.02,108.62 L274.11,110.74 L274.19,112.85 L274.28,114.96 L274.36,117.06 L274.45,119.14 L274.53,121.21 L274.62,123.26 L274.70,125.29 L274.79,127.30 L274.87,129.28 L274.96,131.24 L275.04,133.18 L275.13,135.09 L275.22,136.97 L275.30,138.82 L275.39,140.65 L275.47,142.44 L275.56,144.21 L275.64,145.95 L275.73,147.65 L275.81,149.33 L275.90,150.97 L275.98,152.59 L276.07,154.18 L276.15,155.73 L276.24,157.26 L276.32,158.76 L276.41,160.23 L276.49,161.66 L276.58,163.07 L276.66,164.46 L276.75,165.81 L276.83,167.14 L276.92,168.44 L277.00,169.71 L277.09,170.96 L277.18,172.18 L277.26,173.37 L277.35,174.54 L277.43,175.69 L277.52,176.81 L277.60,177.91 L277.69,178.98 L277.77,180.03 L277.86,181.06 L277.94,182.07 L278.03,183.05 L278.11,184.02 L278.20,184.96 L278.28,185.88 L278.37,186.79 L278.45,187.67 L278.54,188.53 L278.62,189.38 L278.71,190.21 L278.79,191.02 L278.88,191.81 L278.96,192.59 L279.05,193.35 L279.13,194.09 L279.22,194.82 L279.31,195.53 L279.39,196.23 L279.48,196.91 L279.56,197.58 L279.65,198.23 L279.73,198.87 L279.82,199.49 L279.90,200.11 L279.99,200.71 L280.07,201.29 L280.16,201.87 L280.24,202.43 L280.33,202.98 L280.41,203.52 L280.50,204.05 L280.58,204.57 L280.67,205.07 L280.75,205.57 L280.84,206.05 L280.92,206.53 L281.01,206.99 L281.09,207.45 L281.18,207.90 L281.26,208.33 L281.35,208.76 L281.44,209.18 L281.52,209.59 L281.61,210.00 L281.69,210.39 L281.78,210.78 L281.86,211.16 L281.95,211.53 L282.03,211.89 L282.12,212.25 L282.20,212.60 L282.29,212.94 L282.37,213.28 L282.46,213.61 L282.54,213.93 L282.63,214.25 L282.71,214.56 L282.80,214.86 L282.88,215.16 L282.97,215.46 L283.05,215.74 L283.14,216.02 L283.22,216.30 L283.31,216.57 L283.40,216.84 L283.48,217.10 L283.57,217.35 L283.65,217.60 L283.74,217.85 L283.82,218.09 L283.91,218.33 L283.99,218.56 L284.08,218.79 L284.16,219.01 L284.25,219.23 L284.33,219.45 L284.42,219.66 L284.50,219.87 L284.59,220.07 L284.67,220.27 L284.76,220.47 L284.84,220.66 L284.93,220.85 L285.01,221.04 L285.10,221.22 L285.18,221.40 L285.27,221.58 L285.35,221.75 L285.44,221.92 L285.53,222.09 L285.61,222.25 L285.70,222.41 L285.78,222.57 L285.87,222.73 L285.95,222.88 L286.04,223.03 L286.12,223.18 L286.21,223.32 L286.29,223.46 L286.38,223.60 L286.46,223.74 L286.55,223.88 L286.63,224.01 L286.72,224.14 L286.80,224.27 L286.89,224.40 L286.97,224.52 L287.06,224.64 L287.14,224.76 L287.23,224.88 L287.31,225.00 L287.40,225.11 L287.48,225.22 L287.57,225.33 L287.66,225.44 L287.74,225.55 L287.83,225.65 L287.91,225.76 L288.00,225.86 L288.08,225.96 L288.17,226.06 L288.25,226.15 L288.34,226.25 L288.42,226.34 L288.51,226.44 L288.59,226.53 L288.68,226.62 L288.76,226.70 L288.85,226.79 L288.93,226.88 L289.02,226.96 L289.10,227.04 L289.19,227.12 L289.27,227.20 L289.36,227.28 L289.44,227.36 L289.53,227.44 L289.61,227.51 L289.70,227.58 L289.79,227.66 L289.87,227.73 L289.96,227.80 L290.04,227.87 L290.13,227.94 L290.21,228.01 L290.30,228.07 L290.38,228.14 L290.47,228.20 L290.55,228.27 L290.64,228.33 L290.72,228.39 L290.81,228.45 L290.89,228.51 L290.98,228.57 L291.06,228.63 L291.15,228.68 L291.23,228.74 L291.32,228.80 L291.40,228.85 L291.49,228.90 L291.57,228.96 L291.66,229.01 L291.75,229.06 L291.83,229.11 L291.92,229.16 L292.00,229.21 L292.09,229.26 L292.17,229.31 L292.26,229.36 L292.34,229.40 L292.43,229.45 L292.51,229.49 L292.60,229.54 L292.68,229.58 L292.77,229.63 L292.85,229.67 L292.94,229.71 L293.02,229.75 L293.11,229.80 L293.19,229.84 L293.28,229.88 L293.36,229.92 L293.45,229.95 L293.53,229.99 L293.62,230.03 L293.70,230.07 L293.79,230.10 L293.88,230.14 L293.96,230.18 L294.05,230.21 L294.13,230.25 L294.22,230.28 L294.30,230.32 L294.39,230.35 L294.47,230.38 L294.56,230.42 L294.64,230.45 L294.73,230.48 L294.81,230.51 L294.90,230.54 L294.98,230.57 L295.07,230.60 L295.15,230.63 L295.24,230.66 L295.32,230.69 L295.41,230.72 L295.49,230.75 L295.58,230.78 L295.66,230.80 L295.75,230.83 L295.83,230.86 L295.92,230.88 L296.01,230.91 L296.09,230.94 L296.18,230.96 L296.26,230.99 L296.35,231.01 L296.43,231.04 L296.52,231.06 L296.60,231.08 L296.69,231.11 L296.77,231.13 L296.86,231.15 L296.94,231.18 L297.03,231.20 L297.11,231.22 L297.20,231.24 L297.28,231.27 L297.37,231.29 L297.45,231.31 L297.54,231.33 L297.62,231.35 L297.71,231.37 L297.79,231.39 L297.88,231.41 L297.96,231.43 L298.05,231.45 L298.14,231.47 L298.22,231.49 L298.31,231.51 L298.39,231.53 L298.48,231.54 L298.56,231.56 L298.65,231.58 L298.73,231.60 L298.82,231.61 L298.90,231.63 L298.99,231.65 L299.07,231.67 L299.16,231.68 L299.24,231.70 L299.33,231.72 L299.41,231.73 L299.50,231.75 L299.58,231.76 L299.67,231.78 L299.75,231.79 L299.84,231.81 L299.92,231.82 L300.01,231.84 L300.10,231.85 L300.18,231.87 L300.27,231.88 L300.35,231.90 L300.44,231.91 L300.52,231.92 L300.61,231.94 L300.69,231.95 L300.78,231.97 L300.86,231.98 L300.95,231.99 L301.03,232.00 L301.12,232.02 L301.20,232.03 L301.29,232.04 L301.37,232.06 L301.46,232.07 L301.54,232.08 L301.63,232.09 L301.71,232.10 L301.80,232.12 L301.88,232.13 L301.97,232.14 L302.05,232.15 L302.14,232.16 L302.83,232.25 L303.52,232.33 L304.21,232.40 L304.90,232.47 L305.59,232.53 L306.28,232.59 L306.97,232.64 L307.66,232.69 L308.35,232.73 L309.04,232.78 L309.73,232.82 L310.42,232.85 L311.11,232.89 L311.80,232.92 L312.49,232.95" fill="none" stroke="#E7298A" stroke-width="0.95" stroke-linejoin="round"/>
</g>
<path d="M259.5,66.1 L259.5,241.9 L448.1,241.9" fill="none" stroke="#363636" stroke-width="1.05" />
<line x1="267.80" x2="267.80" y1="241.9" y2="246.70" stroke="#3a3a3a" stroke-width="0.95"/>
<text x="267.80" y="257.10" text-anchor="middle" font-size="8.0" fill="#4D4D4D" stroke="#4D4D4D" stroke-width="0.15" transform="rotate(0.04 267.80 257.10)">0</text>
<line x1="302.14" x2="302.14" y1="241.9" y2="246.70" stroke="#3a3a3a" stroke-width="0.95"/>
<text x="302.14" y="257.10" text-anchor="middle" font-size="8.0" fill="#4D4D4D" stroke="#4D4D4D" stroke-width="0.15" transform="rotate(0.04 302.14 257.10)">1</text>
<line x1="336.48" x2="336.48" y1="241.9" y2="246.70" stroke="#3a3a3a" stroke-width="0.95"/>
<text x="336.48" y="257.10" text-anchor="middle" font-size="8.0" fill="#4D4D4D" stroke="#4D4D4D" stroke-width="0.15" transform="rotate(0.04 336.48 257.10)">2</text>
<line x1="370.82" x2="370.82" y1="241.9" y2="246.70" stroke="#3a3a3a" stroke-width="0.95"/>
<text x="370.82" y="257.10" text-anchor="middle" font-size="8.0" fill="#4D4D4D" stroke="#4D4D4D" stroke-width="0.15" transform="rotate(0.04 370.82 257.10)">3</text>
<line x1="405.16" x2="405.16" y1="241.9" y2="246.70" stroke="#3a3a3a" stroke-width="0.95"/>
<text x="405.16" y="257.10" text-anchor="middle" font-size="8.0" fill="#4D4D4D" stroke="#4D4D4D" stroke-width="0.15" transform="rotate(0.04 405.16 257.10)">4</text>
<line x1="439.50" x2="439.50" y1="241.9" y2="246.70" stroke="#3a3a3a" stroke-width="0.95"/>
<text x="439.50" y="257.10" text-anchor="middle" font-size="8.0" fill="#4D4D4D" stroke="#4D4D4D" stroke-width="0.15" transform="rotate(0.04 439.50 257.10)">5</text>
<line x1="254.7" x2="259.5" y1="233.85" y2="233.85" stroke="#3a3a3a" stroke-width="0.95"/>
<text x="249.60" y="236.75" text-anchor="end" font-size="8.0" fill="#4D4D4D" stroke="#4D4D4D" stroke-width="0.15" transform="rotate(0.04 249.60 236.75)">0</text>
<line x1="254.7" x2="259.5" y1="199.74" y2="199.74" stroke="#3a3a3a" stroke-width="0.95"/>
<text x="249.60" y="202.64" text-anchor="end" font-size="8.0" fill="#4D4D4D" stroke="#4D4D4D" stroke-width="0.15" transform="rotate(0.04 249.60 202.64)">1</text>
<line x1="254.7" x2="259.5" y1="165.63" y2="165.63" stroke="#3a3a3a" stroke-width="0.95"/>
<text x="249.60" y="168.53" text-anchor="end" font-size="8.0" fill="#4D4D4D" stroke="#4D4D4D" stroke-width="0.15" transform="rotate(0.04 249.60 168.53)">2</text>
<line x1="254.7" x2="259.5" y1="131.52" y2="131.52" stroke="#3a3a3a" stroke-width="0.95"/>
<text x="249.60" y="134.42" text-anchor="end" font-size="8.0" fill="#4D4D4D" stroke="#4D4D4D" stroke-width="0.15" transform="rotate(0.04 249.60 134.42)">3</text>
<line x1="254.7" x2="259.5" y1="97.41" y2="97.41" stroke="#3a3a3a" stroke-width="0.95"/>
<text x="249.60" y="100.31" text-anchor="end" font-size="8.0" fill="#4D4D4D" stroke="#4D4D4D" stroke-width="0.15" transform="rotate(0.04 249.60 100.31)">4</text>
<text x="252.2" y="7.3" font-size="9.5" fill="#000" stroke="#000" stroke-width="0.1" transform="rotate(0.04 252.2 7.3)">B: Inverse gamma distribution</text>
<rect x="274.6" y="24.30" width="6.1" height="8.65" fill="#D95F02" fill-opacity="0.64" stroke="#D95F02" stroke-width="1.0"/>
<text x="285.0" y="31.80" font-size="7.1" fill="#000" stroke="#000" stroke-width="0.05" transform="rotate(0.04 285.0 31.80)">Shape = 1, Scale = 1</text>
<rect x="274.6" y="33.00" width="6.1" height="8.65" fill="#1B9E77" fill-opacity="0.64" stroke="#1B9E77" stroke-width="1.0"/>
<text x="285.0" y="40.80" font-size="7.1" fill="#000" stroke="#000" stroke-width="0.05" transform="rotate(0.04 285.0 40.80)">Shape = 3, Scale = 1</text>
<rect x="274.6" y="41.70" width="6.1" height="8.65" fill="#E7298A" fill-opacity="0.64" stroke="#E7298A" stroke-width="1.0"/>
<text x="285.0" y="49.80" font-size="7.1" fill="#000" stroke="#000" stroke-width="0.05" transform="rotate(0.04 285.0 49.80)">Shape = 3, Scale = 0.5</text>
<clipPath id="c3"><rect x="493.5" y="58.099999999999994" width="182.29999999999995" height="174.75"/></clipPath><g clip-path="url(#c3)">
<path d="M501.45,224.50 L502.01,224.44 L502.56,224.38 L503.12,224.32 L503.67,224.26 L504.23,224.20 L504.78,224.14 L505.34,224.08 L505.89,224.02 L506.45,223.96 L507.00,223.90 L507.56,223.83 L508.11,223.77 L508.67,223.71 L509.22,223.65 L509.78,223.59 L510.34,223.52 L510.89,223.46 L511.45,223.40 L512.00,223.34 L512.56,223.27 L513.11,223.21 L513.67,223.15 L514.22,223.08 L514.78,223.02 L515.33,222.96 L515.89,222.89 L516.44,222.83 L517.00,222.77 L517.56,222.70 L518.11,222.64 L518.67,222.58 L519.22,222.51 L519.78,222.45 L520.33,222.39 L520.89,222.32 L521.44,222.26 L522.00,222.20 L522.55,222.13 L523.11,222.07 L523.66,222.01 L524.22,221.94 L524.77,221.88 L525.33,221.82 L525.89,221.75 L526.44,221.69 L527.00,221.63 L527.55,221.56 L528.11,221.50 L528.66,221.44 L529.22,221.38 L529.77,221.31 L530.33,221.25 L530.88,221.19 L531.44,221.13 L531.99,221.06 L532.55,221.00 L533.11,220.94 L533.66,220.88 L534.22,220.82 L534.77,220.76 L535.33,220.70 L535.88,220.64 L536.44,220.58 L536.99,220.52 L537.55,220.46 L538.10,220.40 L538.66,220.34 L539.21,220.28 L539.77,220.23 L540.32,220.17 L540.88,220.11 L541.44,220.05 L541.99,220.00 L542.55,219.94 L543.10,219.88 L543.66,219.83 L544.21,219.77 L544.77,219.72 L545.32,219.67 L545.88,219.61 L546.43,219.56 L546.99,219.51 L547.54,219.45 L548.10,219.40 L548.65,219.35 L549.21,219.30 L549.77,219.25 L550.32,219.20 L550.88,219.15 L551.43,219.10 L551.99,219.05 L552.54,219.01 L553.10,218.96 L553.65,218.91 L554.21,218.87 L554.76,218.82 L555.32,218.78 L555.87,218.73 L556.43,218.69 L556.99,218.65 L557.54,218.61 L558.10,218.56 L558.65,218.52 L559.21,218.48 L559.76,218.45 L560.32,218.41 L560.87,218.37 L561.43,218.33 L561.98,218.30 L562.54,218.26 L563.09,218.23 L563.65,218.19 L564.20,218.16 L564.76,218.13 L565.32,218.10 L565.87,218.07 L566.43,218.04 L566.98,218.01 L567.54,217.98 L568.09,217.95 L568.65,217.92 L569.20,217.90 L569.76,217.87 L570.31,217.85 L570.87,217.83 L571.42,217.80 L571.98,217.78 L572.53,217.76 L573.09,217.74 L573.65,217.72 L574.20,217.71 L574.76,217.69 L575.31,217.67 L575.87,217.66 L576.42,217.65 L576.98,217.63 L577.53,217.62 L578.09,217.61 L578.64,217.60 L579.20,217.59 L579.75,217.58 L580.31,217.57 L580.87,217.57 L581.42,217.56 L581.98,217.56 L582.53,217.55 L583.09,217.55 L583.64,217.55 L584.20,217.55 L584.75,217.55 L585.31,217.55 L585.86,217.55 L586.42,217.55 L586.97,217.56 L587.53,217.56 L588.08,217.57 L588.64,217.57 L589.20,217.58 L589.75,217.59 L590.31,217.60 L590.86,217.61 L591.42,217.62 L591.97,217.63 L592.53,217.65 L593.08,217.66 L593.64,217.67 L594.19,217.69 L594.75,217.71 L595.30,217.72 L595.86,217.74 L596.42,217.76 L596.97,217.78 L597.53,217.80 L598.08,217.83 L598.64,217.85 L599.19,217.87 L599.75,217.90 L600.30,217.92 L600.86,217.95 L601.41,217.98 L601.97,218.01 L602.52,218.04 L603.08,218.07 L603.63,218.10 L604.19,218.13 L604.75,218.16 L605.30,218.19 L605.86,218.23 L606.41,218.26 L606.97,218.30 L607.52,218.33 L608.08,218.37 L608.63,218.41 L609.19,218.45 L609.74,218.48 L610.30,218.52 L610.85,218.56 L611.41,218.61 L611.96,218.65 L612.52,218.69 L613.08,218.73 L613.63,218.78 L614.19,218.82 L614.74,218.87 L615.30,218.91 L615.85,218.96 L616.41,219.01 L616.96,219.05 L617.52,219.10 L618.07,219.15 L618.63,219.20 L619.18,219.25 L619.74,219.30 L620.30,219.35 L620.85,219.40 L621.41,219.45 L621.96,219.51 L622.52,219.56 L623.07,219.61 L623.63,219.67 L624.18,219.72 L624.74,219.77 L625.29,219.83 L625.85,219.88 L626.40,219.94 L626.96,220.00 L627.51,220.05 L628.07,220.11 L628.63,220.17 L629.18,220.23 L629.74,220.28 L630.29,220.34 L630.85,220.40 L631.40,220.46 L631.96,220.52 L632.51,220.58 L633.07,220.64 L633.62,220.70 L634.18,220.76 L634.73,220.82 L635.29,220.88 L635.84,220.94 L636.40,221.00 L636.96,221.06 L637.51,221.13 L638.07,221.19 L638.62,221.25 L639.18,221.31 L639.73,221.38 L640.29,221.44 L640.84,221.50 L641.40,221.56 L641.95,221.63 L642.51,221.69 L643.06,221.75 L643.62,221.82 L644.18,221.88 L644.73,221.94 L645.29,222.01 L645.84,222.07 L646.40,222.13 L646.95,222.20 L647.51,222.26 L648.06,222.32 L648.62,222.39 L649.17,222.45 L649.73,222.51 L650.28,222.58 L650.84,222.64 L651.39,222.70 L651.95,222.77 L652.51,222.83 L653.06,222.89 L653.62,222.96 L654.17,223.02 L654.73,223.08 L655.28,223.15 L655.84,223.21 L656.39,223.27 L656.95,223.34 L657.50,223.40 L658.06,223.46 L658.61,223.52 L659.17,223.59 L659.73,223.65 L660.28,223.71 L660.84,223.77 L661.39,223.83 L661.95,223.90 L662.50,223.96 L663.06,224.02 L663.61,224.08 L664.17,224.14 L664.72,224.20 L665.28,224.26 L665.83,224.32 L666.39,224.38 L666.94,224.44 L667.50,224.50 L667.50,233.45 L501.45,233.45 Z" fill="#D95F02" fill-opacity="0.25" stroke="none"/>
<path d="M501.45,224.50 L502.01,224.44 L502.56,224.38 L503.12,224.32 L503.67,224.26 L504.23,224.20 L504.78,224.14 L505.34,224.08 L505.89,224.02 L506.45,223.96 L507.00,223.90 L507.56,223.83 L508.11,223.77 L508.67,223.71 L509.22,223.65 L509.78,223.59 L510.34,223.52 L510.89,223.46 L511.45,223.40 L512.00,223.34 L512.56,223.27 L513.11,223.21 L513.67,223.15 L514.22,223.08 L514.78,223.02 L515.33,222.96 L515.89,222.89 L516.44,222.83 L517.00,222.77 L517.56,222.70 L518.11,222.64 L518.67,222.58 L519.22,222.51 L519.78,222.45 L520.33,222.39 L520.89,222.32 L521.44,222.26 L522.00,222.20 L522.55,222.13 L523.11,222.07 L523.66,222.01 L524.22,221.94 L524.77,221.88 L525.33,221.82 L525.89,221.75 L526.44,221.69 L527.00,221.63 L527.55,221.56 L528.11,221.50 L528.66,221.44 L529.22,221.38 L529.77,221.31 L530.33,221.25 L530.88,221.19 L531.44,221.13 L531.99,221.06 L532.55,221.00 L533.11,220.94 L533.66,220.88 L534.22,220.82 L534.77,220.76 L535.33,220.70 L535.88,220.64 L536.44,220.58 L536.99,220.52 L537.55,220.46 L538.10,220.40 L538.66,220.34 L539.21,220.28 L539.77,220.23 L540.32,220.17 L540.88,220.11 L541.44,220.05 L541.99,220.00 L542.55,219.94 L543.10,219.88 L543.66,219.83 L544.21,219.77 L544.77,219.72 L545.32,219.67 L545.88,219.61 L546.43,219.56 L546.99,219.51 L547.54,219.45 L548.10,219.40 L548.65,219.35 L549.21,219.30 L549.77,219.25 L550.32,219.20 L550.88,219.15 L551.43,219.10 L551.99,219.05 L552.54,219.01 L553.10,218.96 L553.65,218.91 L554.21,218.87 L554.76,218.82 L555.32,218.78 L555.87,218.73 L556.43,218.69 L556.99,218.65 L557.54,218.61 L558.10,218.56 L558.65,218.52 L559.21,218.48 L559.76,218.45 L560.32,218.41 L560.87,218.37 L561.43,218.33 L561.98,218.30 L562.54,218.26 L563.09,218.23 L563.65,218.19 L564.20,218.16 L564.76,218.13 L565.32,218.10 L565.87,218.07 L566.43,218.04 L566.98,218.01 L567.54,217.98 L568.09,217.95 L568.65,217.92 L569.20,217.90 L569.76,217.87 L570.31,217.85 L570.87,217.83 L571.42,217.80 L571.98,217.78 L572.53,217.76 L573.09,217.74 L573.65,217.72 L574.20,217.71 L574.76,217.69 L575.31,217.67 L575.87,217.66 L576.42,217.65 L576.98,217.63 L577.53,217.62 L578.09,217.61 L578.64,217.60 L579.20,217.59 L579.75,217.58 L580.31,217.57 L580.87,217.57 L581.42,217.56 L581.98,217.56 L582.53,217.55 L583.09,217.55 L583.64,217.55 L584.20,217.55 L584.75,217.55 L585.31,217.55 L585.86,217.55 L586.42,217.55 L586.97,217.56 L587.53,217.56 L588.08,217.57 L588.64,217.57 L589.20,217.58 L589.75,217.59 L590.31,217.60 L590.86,217.61 L591.42,217.62 L591.97,217.63 L592.53,217.65 L593.08,217.66 L593.64,217.67 L594.19,217.69 L594.75,217.71 L595.30,217.72 L595.86,217.74 L596.42,217.76 L596.97,217.78 L597.53,217.80 L598.08,217.83 L598.64,217.85 L599.19,217.87 L599.75,217.90 L600.30,217.92 L600.86,217.95 L601.41,217.98 L601.97,218.01 L602.52,218.04 L603.08,218.07 L603.63,218.10 L604.19,218.13 L604.75,218.16 L605.30,218.19 L605.86,218.23 L606.41,218.26 L606.97,218.30 L607.52,218.33 L608.08,218.37 L608.63,218.41 L609.19,218.45 L609.74,218.48 L610.30,218.52 L610.85,218.56 L611.41,218.61 L611.96,218.65 L612.52,218.69 L613.08,218.73 L613.63,218.78 L614.19,218.82 L614.74,218.87 L615.30,218.91 L615.85,218.96 L616.41,219.01 L616.96,219.05 L617.52,219.10 L618.07,219.15 L618.63,219.20 L619.18,219.25 L619.74,219.30 L620.30,219.35 L620.85,219.40 L621.41,219.45 L621.96,219.51 L622.52,219.56 L623.07,219.61 L623.63,219.67 L624.18,219.72 L624.74,219.77 L625.29,219.83 L625.85,219.88 L626.40,219.94 L626.96,220.00 L627.51,220.05 L628.07,220.11 L628.63,220.17 L629.18,220.23 L629.74,220.28 L630.29,220.34 L630.85,220.40 L631.40,220.46 L631.96,220.52 L632.51,220.58 L633.07,220.64 L633.62,220.70 L634.18,220.76 L634.73,220.82 L635.29,220.88 L635.84,220.94 L636.40,221.00 L636.96,221.06 L637.51,221.13 L638.07,221.19 L638.62,221.25 L639.18,221.31 L639.73,221.38 L640.29,221.44 L640.84,221.50 L641.40,221.56 L641.95,221.63 L642.51,221.69 L643.06,221.75 L643.62,221.82 L644.18,221.88 L644.73,221.94 L645.29,222.01 L645.84,222.07 L646.40,222.13 L646.95,222.20 L647.51,222.26 L648.06,222.32 L648.62,222.39 L649.17,222.45 L649.73,222.51 L650.28,222.58 L650.84,222.64 L651.39,222.70 L651.95,222.77 L652.51,222.83 L653.06,222.89 L653.62,222.96 L654.17,223.02 L654.73,223.08 L655.28,223.15 L655.84,223.21 L656.39,223.27 L656.95,223.34 L657.50,223.40 L658.06,223.46 L658.61,223.52 L659.17,223.59 L659.73,223.65 L660.28,223.71 L660.84,223.77 L661.39,223.83 L661.95,223.90 L662.50,223.96 L663.06,224.02 L663.61,224.08 L664.17,224.14 L664.72,224.20 L665.28,224.26 L665.83,224.32 L666.39,224.38 L666.94,224.44 L667.50,224.50" fill="none" stroke="#D95F02" stroke-width="1.0" stroke-linejoin="round" stroke-dasharray="4.5 3.0"/>
<path d="M501.45,231.69 L502.01,231.65 L502.56,231.61 L503.12,231.58 L503.67,231.54 L504.23,231.50 L504.78,231.46 L505.34,231.42 L505.89,231.38 L506.45,231.33 L507.00,231.29 L507.56,231.24 L508.11,231.20 L508.67,231.15 L509.22,231.10 L509.78,231.05 L510.34,231.00 L510.89,230.95 L511.45,230.89 L512.00,230.84 L512.56,230.78 L513.11,230.72 L513.67,230.66 L514.22,230.60 L514.78,230.54 L515.33,230.48 L515.89,230.41 L516.44,230.34 L517.00,230.27 L517.56,230.20 L518.11,230.13 L518.67,230.05 L519.22,229.98 L519.78,229.90 L520.33,229.82 L520.89,229.73 L521.44,229.65 L522.00,229.56 L522.55,229.47 L523.11,229.38 L523.66,229.28 L524.22,229.18 L524.77,229.08 L525.33,228.98 L525.89,228.88 L526.44,228.77 L527.00,228.65 L527.55,228.54 L528.11,228.42 L528.66,228.30 L529.22,228.18 L529.77,228.05 L530.33,227.92 L530.88,227.78 L531.44,227.64 L531.99,227.50 L532.55,227.35 L533.11,227.20 L533.66,227.05 L534.22,226.89 L534.77,226.73 L535.33,226.56 L535.88,226.39 L536.44,226.21 L536.99,226.03 L537.55,225.84 L538.10,225.64 L538.66,225.45 L539.21,225.24 L539.77,225.03 L540.32,224.82 L540.88,224.60 L541.44,224.37 L541.99,224.14 L542.55,223.90 L543.10,223.65 L543.66,223.40 L544.21,223.14 L544.77,222.87 L545.32,222.60 L545.88,222.31 L546.43,222.02 L546.99,221.73 L547.54,221.42 L548.10,221.11 L548.65,220.79 L549.21,220.46 L549.77,220.12 L550.32,219.77 L550.88,219.41 L551.43,219.05 L551.99,218.67 L552.54,218.29 L553.10,217.89 L553.65,217.49 L554.21,217.07 L554.76,216.65 L555.32,216.22 L555.87,215.77 L556.43,215.32 L556.99,214.85 L557.54,214.38 L558.10,213.89 L558.65,213.39 L559.21,212.88 L559.76,212.37 L560.32,211.84 L560.87,211.30 L561.43,210.75 L561.98,210.18 L562.54,209.61 L563.09,209.03 L563.65,208.44 L564.20,207.84 L564.76,207.22 L565.32,206.60 L565.87,205.97 L566.43,205.33 L566.98,204.68 L567.54,204.03 L568.09,203.36 L568.65,202.69 L569.20,202.01 L569.76,201.33 L570.31,200.64 L570.87,199.95 L571.42,199.25 L571.98,198.55 L572.53,197.84 L573.09,197.14 L573.65,196.43 L574.20,195.72 L574.76,195.02 L575.31,194.32 L575.87,193.62 L576.42,192.92 L576.98,192.23 L577.53,191.55 L578.09,190.88 L578.64,190.22 L579.20,189.56 L579.75,188.92 L580.31,188.29 L580.87,187.68 L581.42,187.09 L581.98,186.51 L582.53,185.95 L583.09,185.41 L583.64,184.89 L584.20,184.39 L584.75,183.92 L585.31,183.48 L585.86,183.06 L586.42,182.67 L586.97,182.30 L587.53,181.97 L588.08,181.67 L588.64,181.40 L589.20,181.16 L589.75,180.95 L590.31,180.78 L590.86,180.65 L591.42,180.54 L591.97,180.47 L592.53,180.44 L593.08,180.44 L593.64,180.48 L594.19,180.55 L594.75,180.66 L595.30,180.80 L595.86,180.97 L596.42,181.18 L596.97,181.42 L597.53,181.70 L598.08,182.00 L598.64,182.34 L599.19,182.71 L599.75,183.10 L600.30,183.52 L600.86,183.97 L601.41,184.44 L601.97,184.94 L602.52,185.46 L603.08,186.00 L603.63,186.56 L604.19,187.14 L604.75,187.74 L605.30,188.36 L605.86,188.99 L606.41,189.63 L606.97,190.28 L607.52,190.95 L608.08,191.62 L608.63,192.30 L609.19,192.99 L609.74,193.69 L610.30,194.39 L610.85,195.09 L611.41,195.79 L611.96,196.50 L612.52,197.21 L613.08,197.91 L613.63,198.62 L614.19,199.32 L614.74,200.02 L615.30,200.71 L615.85,201.40 L616.41,202.08 L616.96,202.76 L617.52,203.43 L618.07,204.09 L618.63,204.75 L619.18,205.40 L619.74,206.04 L620.30,206.67 L620.85,207.29 L621.41,207.90 L621.96,208.50 L622.52,209.09 L623.07,209.67 L623.63,210.24 L624.18,210.80 L624.74,211.35 L625.29,211.89 L625.85,212.42 L626.40,212.94 L626.96,213.44 L627.51,213.94 L628.07,214.42 L628.63,214.90 L629.18,215.36 L629.74,215.82 L630.29,216.26 L630.85,216.69 L631.40,217.12 L631.96,217.53 L632.51,217.93 L633.07,218.33 L633.62,218.71 L634.18,219.08 L634.73,219.45 L635.29,219.80 L635.84,220.15 L636.40,220.49 L636.96,220.82 L637.51,221.14 L638.07,221.45 L638.62,221.76 L639.18,222.05 L639.73,222.34 L640.29,222.62 L640.84,222.90 L641.40,223.16 L641.95,223.42 L642.51,223.68 L643.06,223.92 L643.62,224.16 L644.18,224.39 L644.73,224.62 L645.29,224.84 L645.84,225.05 L646.40,225.26 L646.95,225.47 L647.51,225.66 L648.06,225.86 L648.62,226.04 L649.17,226.23 L649.73,226.40 L650.28,226.57 L650.84,226.74 L651.39,226.91 L651.95,227.06 L652.51,227.22 L653.06,227.37 L653.62,227.52 L654.17,227.66 L654.73,227.80 L655.28,227.93 L655.84,228.06 L656.39,228.19 L656.95,228.31 L657.50,228.43 L658.06,228.55 L658.61,228.67 L659.17,228.78 L659.73,228.89 L660.28,228.99 L660.84,229.09 L661.39,229.19 L661.95,229.29 L662.50,229.39 L663.06,229.48 L663.61,229.57 L664.17,229.66 L664.72,229.74 L665.28,229.83 L665.83,229.91 L666.39,229.98 L666.94,230.06 L667.50,230.14 L667.50,233.45 L501.45,233.45 Z" fill="#1B9E77" fill-opacity="0.26" stroke="none"/>
<path d="M501.45,231.69 L502.01,231.65 L502.56,231.61 L503.12,231.58 L503.67,231.54 L504.23,231.50 L504.78,231.46 L505.34,231.42 L505.89,231.38 L506.45,231.33 L507.00,231.29 L507.56,231.24 L508.11,231.20 L508.67,231.15 L509.22,231.10 L509.78,231.05 L510.34,231.00 L510.89,230.95 L511.45,230.89 L512.00,230.84 L512.56,230.78 L513.11,230.72 L513.67,230.66 L514.22,230.60 L514.78,230.54 L515.33,230.48 L515.89,230.41 L516.44,230.34 L517.00,230.27 L517.56,230.20 L518.11,230.13 L518.67,230.05 L519.22,229.98 L519.78,229.90 L520.33,229.82 L520.89,229.73 L521.44,229.65 L522.00,229.56 L522.55,229.47 L523.11,229.38 L523.66,229.28 L524.22,229.18 L524.77,229.08 L525.33,228.98 L525.89,228.88 L526.44,228.77 L527.00,228.65 L527.55,228.54 L528.11,228.42 L528.66,228.30 L529.22,228.18 L529.77,228.05 L530.33,227.92 L530.88,227.78 L531.44,227.64 L531.99,227.50 L532.55,227.35 L533.11,227.20 L533.66,227.05 L534.22,226.89 L534.77,226.73 L535.33,226.56 L535.88,226.39 L536.44,226.21 L536.99,226.03 L537.55,225.84 L538.10,225.64 L538.66,225.45 L539.21,225.24 L539.77,225.03 L540.32,224.82 L540.88,224.60 L541.44,224.37 L541.99,224.14 L542.55,223.90 L543.10,223.65 L543.66,223.40 L544.21,223.14 L544.77,222.87 L545.32,222.60 L545.88,222.31 L546.43,222.02 L546.99,221.73 L547.54,221.42 L548.10,221.11 L548.65,220.79 L549.21,220.46 L549.77,220.12 L550.32,219.77 L550.88,219.41 L551.43,219.05 L551.99,218.67 L552.54,218.29 L553.10,217.89 L553.65,217.49 L554.21,217.07 L554.76,216.65 L555.32,216.22 L555.87,215.77 L556.43,215.32 L556.99,214.85 L557.54,214.38 L558.10,213.89 L558.65,213.39 L559.21,212.88 L559.76,212.37 L560.32,211.84 L560.87,211.30 L561.43,210.75 L561.98,210.18 L562.54,209.61 L563.09,209.03 L563.65,208.44 L564.20,207.84 L564.76,207.22 L565.32,206.60 L565.87,205.97 L566.43,205.33 L566.98,204.68 L567.54,204.03 L568.09,203.36 L568.65,202.69 L569.20,202.01 L569.76,201.33 L570.31,200.64 L570.87,199.95 L571.42,199.25 L571.98,198.55 L572.53,197.84 L573.09,197.14 L573.65,196.43 L574.20,195.72 L574.76,195.02 L575.31,194.32 L575.87,193.62 L576.42,192.92 L576.98,192.23 L577.53,191.55 L578.09,190.88 L578.64,190.22 L579.20,189.56 L579.75,188.92 L580.31,188.29 L580.87,187.68 L581.42,187.09 L581.98,186.51 L582.53,185.95 L583.09,185.41 L583.64,184.89 L584.20,184.39 L584.75,183.92 L585.31,183.48 L585.86,183.06 L586.42,182.67 L586.97,182.30 L587.53,181.97 L588.08,181.67 L588.64,181.40 L589.20,181.16 L589.75,180.95 L590.31,180.78 L590.86,180.65 L591.42,180.54 L591.97,180.47 L592.53,180.44 L593.08,180.44 L593.64,180.48 L594.19,180.55 L594.75,180.66 L595.30,180.80 L595.86,180.97 L596.42,181.18 L596.97,181.42 L597.53,181.70 L598.08,182.00 L598.64,182.34 L599.19,182.71 L599.75,183.10 L600.30,183.52 L600.86,183.97 L601.41,184.44 L601.97,184.94 L602.52,185.46 L603.08,186.00 L603.63,186.56 L604.19,187.14 L604.75,187.74 L605.30,188.36 L605.86,188.99 L606.41,189.63 L606.97,190.28 L607.52,190.95 L608.08,191.62 L608.63,192.30 L609.19,192.99 L609.74,193.69 L610.30,194.39 L610.85,195.09 L611.41,195.79 L611.96,196.50 L612.52,197.21 L613.08,197.91 L613.63,198.62 L614.19,199.32 L614.74,200.02 L615.30,200.71 L615.85,201.40 L616.41,202.08 L616.96,202.76 L617.52,203.43 L618.07,204.09 L618.63,204.75 L619.18,205.40 L619.74,206.04 L620.30,206.67 L620.85,207.29 L621.41,207.90 L621.96,208.50 L622.52,209.09 L623.07,209.67 L623.63,210.24 L624.18,210.80 L624.74,211.35 L625.29,211.89 L625.85,212.42 L626.40,212.94 L626.96,213.44 L627.51,213.94 L628.07,214.42 L628.63,214.90 L629.18,215.36 L629.74,215.82 L630.29,216.26 L630.85,216.69 L631.40,217.12 L631.96,217.53 L632.51,217.93 L633.07,218.33 L633.62,218.71 L634.18,219.08 L634.73,219.45 L635.29,219.80 L635.84,220.15 L636.40,220.49 L636.96,220.82 L637.51,221.14 L638.07,221.45 L638.62,221.76 L639.18,222.05 L639.73,222.34 L640.29,222.62 L640.84,222.90 L641.40,223.16 L641.95,223.42 L642.51,223.68 L643.06,223.92 L643.62,224.16 L644.18,224.39 L644.73,224.62 L645.29,224.84 L645.84,225.05 L646.40,225.26 L646.95,225.47 L647.51,225.66 L648.06,225.86 L648.62,226.04 L649.17,226.23 L649.73,226.40 L650.28,226.57 L650.84,226.74 L651.39,226.91 L651.95,227.06 L652.51,227.22 L653.06,227.37 L653.62,227.52 L654.17,227.66 L654.73,227.80 L655.28,227.93 L655.84,228.06 L656.39,228.19 L656.95,228.31 L657.50,228.43 L658.06,228.55 L658.61,228.67 L659.17,228.78 L659.73,228.89 L660.28,228.99 L660.84,229.09 L661.39,229.19 L661.95,229.29 L662.50,229.39 L663.06,229.48 L663.61,229.57 L664.17,229.66 L664.72,229.74 L665.28,229.83 L665.83,229.91 L666.39,229.98 L666.94,230.06 L667.50,230.14" fill="none" stroke="#1B9E77" stroke-width="1.1" stroke-linejoin="round" stroke-dasharray="1.25 2.08"/>
<path d="M501.45,233.32 L502.01,233.31 L502.56,233.31 L503.12,233.30 L503.67,233.30 L504.23,233.30 L504.78,233.29 L505.34,233.29 L505.89,233.28 L506.45,233.28 L507.00,233.27 L507.56,233.27 L508.11,233.26 L508.67,233.26 L509.22,233.25 L509.78,233.25 L510.34,233.24 L510.89,233.23 L511.45,233.23 L512.00,233.22 L512.56,233.21 L513.11,233.21 L513.67,233.20 L514.22,233.19 L514.78,233.18 L515.33,233.18 L515.89,233.17 L516.44,233.16 L517.00,233.15 L517.56,233.14 L518.11,233.13 L518.67,233.12 L519.22,233.11 L519.78,233.10 L520.33,233.09 L520.89,233.07 L521.44,233.06 L522.00,233.05 L522.55,233.03 L523.11,233.02 L523.66,233.00 L524.22,232.99 L524.77,232.97 L525.33,232.95 L525.89,232.94 L526.44,232.92 L527.00,232.90 L527.55,232.88 L528.11,232.86 L528.66,232.83 L529.22,232.81 L529.77,232.79 L530.33,232.76 L530.88,232.73 L531.44,232.70 L531.99,232.67 L532.55,232.64 L533.11,232.61 L533.66,232.58 L534.22,232.54 L534.77,232.50 L535.33,232.46 L535.88,232.42 L536.44,232.37 L536.99,232.33 L537.55,232.28 L538.10,232.23 L538.66,232.17 L539.21,232.11 L539.77,232.05 L540.32,231.99 L540.88,231.92 L541.44,231.85 L541.99,231.77 L542.55,231.69 L543.10,231.60 L543.66,231.51 L544.21,231.41 L544.77,231.31 L545.32,231.20 L545.88,231.09 L546.43,230.96 L546.99,230.83 L547.54,230.69 L548.10,230.54 L548.65,230.39 L549.21,230.22 L549.77,230.04 L550.32,229.84 L550.88,229.64 L551.43,229.42 L551.99,229.18 L552.54,228.93 L553.10,228.66 L553.65,228.37 L554.21,228.06 L554.76,227.72 L555.32,227.36 L555.87,226.97 L556.43,226.56 L556.99,226.11 L557.54,225.62 L558.10,225.10 L558.65,224.54 L559.21,223.93 L559.76,223.27 L560.32,222.56 L560.87,221.79 L561.43,220.96 L561.98,220.06 L562.54,219.08 L563.09,218.02 L563.65,216.87 L564.20,215.62 L564.76,214.27 L565.32,212.80 L565.87,211.20 L566.43,209.47 L566.98,207.59 L567.54,205.55 L568.09,203.33 L568.65,200.93 L569.20,198.33 L569.76,195.51 L570.31,192.46 L570.87,189.17 L571.42,185.63 L571.98,181.82 L572.53,177.73 L573.09,173.35 L573.65,168.69 L574.20,163.74 L574.76,158.51 L575.31,153.00 L575.87,147.25 L576.42,141.28 L576.98,135.13 L577.53,128.84 L578.09,122.50 L578.64,116.15 L579.20,109.91 L579.75,103.85 L580.31,98.08 L580.87,92.71 L581.42,87.84 L581.98,83.60 L582.53,80.07 L583.09,77.33 L583.64,75.47 L584.20,74.53 L584.75,74.53 L585.31,75.47 L585.86,77.33 L586.42,80.07 L586.97,83.60 L587.53,87.84 L588.08,92.71 L588.64,98.08 L589.20,103.85 L589.75,109.91 L590.31,116.15 L590.86,122.50 L591.42,128.84 L591.97,135.13 L592.53,141.28 L593.08,147.25 L593.64,153.00 L594.19,158.51 L594.75,163.74 L595.30,168.69 L595.86,173.35 L596.42,177.73 L596.97,181.82 L597.53,185.63 L598.08,189.17 L598.64,192.46 L599.19,195.51 L599.75,198.33 L600.30,200.93 L600.86,203.33 L601.41,205.55 L601.97,207.59 L602.52,209.47 L603.08,211.20 L603.63,212.80 L604.19,214.27 L604.75,215.62 L605.30,216.87 L605.86,218.02 L606.41,219.08 L606.97,220.06 L607.52,220.96 L608.08,221.79 L608.63,222.56 L609.19,223.27 L609.74,223.93 L610.30,224.54 L610.85,225.10 L611.41,225.62 L611.96,226.11 L612.52,226.56 L613.08,226.97 L613.63,227.36 L614.19,227.72 L614.74,228.06 L615.30,228.37 L615.85,228.66 L616.41,228.93 L616.96,229.18 L617.52,229.42 L618.07,229.64 L618.63,229.84 L619.18,230.04 L619.74,230.22 L620.30,230.39 L620.85,230.54 L621.41,230.69 L621.96,230.83 L622.52,230.96 L623.07,231.09 L623.63,231.20 L624.18,231.31 L624.74,231.41 L625.29,231.51 L625.85,231.60 L626.40,231.69 L626.96,231.77 L627.51,231.85 L628.07,231.92 L628.63,231.99 L629.18,232.05 L629.74,232.11 L630.29,232.17 L630.85,232.23 L631.40,232.28 L631.96,232.33 L632.51,232.37 L633.07,232.42 L633.62,232.46 L634.18,232.50 L634.73,232.54 L635.29,232.58 L635.84,232.61 L636.40,232.64 L636.96,232.67 L637.51,232.70 L638.07,232.73 L638.62,232.76 L639.18,232.79 L639.73,232.81 L640.29,232.83 L640.84,232.86 L641.40,232.88 L641.95,232.90 L642.51,232.92 L643.06,232.94 L643.62,232.95 L644.18,232.97 L644.73,232.99 L645.29,233.00 L645.84,233.02 L646.40,233.03 L646.95,233.05 L647.51,233.06 L648.06,233.07 L648.62,233.09 L649.17,233.10 L649.73,233.11 L650.28,233.12 L650.84,233.13 L651.39,233.14 L651.95,233.15 L652.51,233.16 L653.06,233.17 L653.62,233.18 L654.17,233.18 L654.73,233.19 L655.28,233.20 L655.84,233.21 L656.39,233.21 L656.95,233.22 L657.50,233.23 L658.06,233.23 L658.61,233.24 L659.17,233.25 L659.73,233.25 L660.28,233.26 L660.84,233.26 L661.39,233.27 L661.95,233.27 L662.50,233.28 L663.06,233.28 L663.61,233.29 L664.17,233.29 L664.72,233.30 L665.28,233.30 L665.83,233.30 L666.39,233.31 L666.94,233.31 L667.50,233.32 L667.50,233.45 L501.45,233.45 Z" fill="#E7298A" fill-opacity="0.3" stroke="none"/>
<path d="M525.89,232.94 L526.44,232.92 L527.00,232.90 L527.55,232.88 L528.11,232.86 L528.66,232.83 L529.22,232.81 L529.77,232.79 L530.33,232.76 L530.88,232.73 L531.44,232.70 L531.99,232.67 L532.55,232.64 L533.11,232.61 L533.66,232.58 L534.22,232.54 L534.77,232.50 L535.33,232.46 L535.88,232.42 L536.44,232.37 L536.99,232.33 L537.55,232.28 L538.10,232.23 L538.66,232.17 L539.21,232.11 L539.77,232.05 L540.32,231.99 L540.88,231.92 L541.44,231.85 L541.99,231.77 L542.55,231.69 L543.10,231.60 L543.66,231.51 L544.21,231.41 L544.77,231.31 L545.32,231.20 L545.88,231.09 L546.43,230.96 L546.99,230.83 L547.54,230.69 L548.10,230.54 L548.65,230.39 L549.21,230.22 L549.77,230.04 L550.32,229.84 L550.88,229.64 L551.43,229.42 L551.99,229.18 L552.54,228.93 L553.10,228.66 L553.65,228.37 L554.21,228.06 L554.76,227.72 L555.32,227.36 L555.87,226.97 L556.43,226.56 L556.99,226.11 L557.54,225.62 L558.10,225.10 L558.65,224.54 L559.21,223.93 L559.76,223.27 L560.32,222.56 L560.87,221.79 L561.43,220.96 L561.98,220.06 L562.54,219.08 L563.09,218.02 L563.65,216.87 L564.20,215.62 L564.76,214.27 L565.32,212.80 L565.87,211.20 L566.43,209.47 L566.98,207.59 L567.54,205.55 L568.09,203.33 L568.65,200.93 L569.20,198.33 L569.76,195.51 L570.31,192.46 L570.87,189.17 L571.42,185.63 L571.98,181.82 L572.53,177.73 L573.09,173.35 L573.65,168.69 L574.20,163.74 L574.76,158.51 L575.31,153.00 L575.87,147.25 L576.42,141.28 L576.98,135.13 L577.53,128.84 L578.09,122.50 L578.64,116.15 L579.20,109.91 L579.75,103.85 L580.31,98.08 L580.87,92.71 L581.42,87.84 L581.98,83.60 L582.53,80.07 L583.09,77.33 L583.64,75.47 L584.20,74.53 L584.75,74.53 L585.31,75.47 L585.86,77.33 L586.42,80.07 L586.97,83.60 L587.53,87.84 L588.08,92.71 L588.64,98.08 L589.20,103.85 L589.75,109.91 L590.31,116.15 L590.86,122.50 L591.42,128.84 L591.97,135.13 L592.53,141.28 L593.08,147.25 L593.64,153.00 L594.19,158.51 L594.75,163.74 L595.30,168.69 L595.86,173.35 L596.42,177.73 L596.97,181.82 L597.53,185.63 L598.08,189.17 L598.64,192.46 L599.19,195.51 L599.75,198.33 L600.30,200.93 L600.86,203.33 L601.41,205.55 L601.97,207.59 L602.52,209.47 L603.08,211.20 L603.63,212.80 L604.19,214.27 L604.75,215.62 L605.30,216.87 L605.86,218.02 L606.41,219.08 L606.97,220.06 L607.52,220.96 L608.08,221.79 L608.63,222.56 L609.19,223.27 L609.74,223.93 L610.30,224.54 L610.85,225.10 L611.41,225.62 L611.96,226.11 L612.52,226.56 L613.08,226.97 L613.63,227.36 L614.19,227.72 L614.74,228.06 L615.30,228.37 L615.85,228.66 L616.41,228.93 L616.96,229.18 L617.52,229.42 L618.07,229.64 L618.63,229.84 L619.18,230.04 L619.74,230.22 L620.30,230.39 L620.85,230.54 L621.41,230.69 L621.96,230.83 L622.52,230.96 L623.07,231.09 L623.63,231.20 L624.18,231.31 L624.74,231.41 L625.29,231.51 L625.85,231.60 L626.40,231.69 L626.96,231.77 L627.51,231.85 L628.07,231.92 L628.63,231.99 L629.18,232.05 L629.74,232.11 L630.29,232.17 L630.85,232.23 L631.40,232.28 L631.96,232.33 L632.51,232.37 L633.07,232.42 L633.62,232.46 L634.18,232.50 L634.73,232.54 L635.29,232.58 L635.84,232.61 L636.40,232.64 L636.96,232.67 L637.51,232.70 L638.07,232.73 L638.62,232.76 L639.18,232.79 L639.73,232.81 L640.29,232.83 L640.84,232.86 L641.40,232.88 L641.95,232.90 L642.51,232.92 L643.06,232.94" fill="none" stroke="#E7298A" stroke-width="0.95" stroke-linejoin="round"/>
</g>
<path d="M493.5,66.1 L493.5,241.9 L675.8,241.9" fill="none" stroke="#363636" stroke-width="1.05" />
<line x1="501.45" x2="501.45" y1="241.9" y2="246.70" stroke="#3a3a3a" stroke-width="0.95"/>
<text x="501.45" y="257.10" text-anchor="middle" font-size="8.0" fill="#4D4D4D" stroke="#4D4D4D" stroke-width="0.15" transform="rotate(0.04 501.45 257.10)">-10</text>
<line x1="542.96" x2="542.96" y1="241.9" y2="246.70" stroke="#3a3a3a" stroke-width="0.95"/>
<text x="542.96" y="257.10" text-anchor="middle" font-size="8.0" fill="#4D4D4D" stroke="#4D4D4D" stroke-width="0.15" transform="rotate(0.04 542.96 257.10)">-5</text>
<line x1="584.48" x2="584.48" y1="241.9" y2="246.70" stroke="#3a3a3a" stroke-width="0.95"/>
<text x="584.48" y="257.10" text-anchor="middle" font-size="8.0" fill="#4D4D4D" stroke="#4D4D4D" stroke-width="0.15" transform="rotate(0.04 584.48 257.10)">0</text>
<line x1="625.99" x2="625.99" y1="241.9" y2="246.70" stroke="#3a3a3a" stroke-width="0.95"/>
<text x="625.99" y="257.10" text-anchor="middle" font-size="8.0" fill="#4D4D4D" stroke="#4D4D4D" stroke-width="0.15" transform="rotate(0.04 625.99 257.10)">5</text>
<line x1="667.50" x2="667.50" y1="241.9" y2="246.70" stroke="#3a3a3a" stroke-width="0.95"/>
<text x="667.50" y="257.10" text-anchor="middle" font-size="8.0" fill="#4D4D4D" stroke="#4D4D4D" stroke-width="0.15" transform="rotate(0.04 667.50 257.10)">10</text>
<line x1="488.7" x2="493.5" y1="233.95" y2="233.95" stroke="#3a3a3a" stroke-width="0.95"/>
<text x="483.60" y="236.85" text-anchor="end" font-size="8.0" fill="#4D4D4D" stroke="#4D4D4D" stroke-width="0.15" transform="rotate(0.04 483.60 236.85)">0.0</text>
<line x1="488.7" x2="493.5" y1="190.42" y2="190.42" stroke="#3a3a3a" stroke-width="0.95"/>
<text x="483.60" y="193.32" text-anchor="end" font-size="8.0" fill="#4D4D4D" stroke="#4D4D4D" stroke-width="0.15" transform="rotate(0.04 483.60 193.32)">0.1</text>
<line x1="488.7" x2="493.5" y1="146.89" y2="146.89" stroke="#3a3a3a" stroke-width="0.95"/>
<text x="483.60" y="149.79" text-anchor="end" font-size="8.0" fill="#4D4D4D" stroke="#4D4D4D" stroke-width="0.15" transform="rotate(0.04 483.60 149.79)">0.2</text>
<line x1="488.7" x2="493.5" y1="103.36" y2="103.36" stroke="#3a3a3a" stroke-width="0.95"/>
<text x="483.60" y="106.26" text-anchor="end" font-size="8.0" fill="#4D4D4D" stroke="#4D4D4D" stroke-width="0.15" transform="rotate(0.04 483.60 106.26)">0.3</text>
<text x="479.8" y="7.1" font-size="9.5" fill="#000" stroke="#000" stroke-width="0.1" transform="rotate(0.04 479.8 7.1)">C: Student's t-distribution</text>
<rect x="499.6" y="22.90" width="6.1" height="8.65" fill="#D95F02" fill-opacity="0.64" stroke="#D95F02" stroke-width="1.0"/>
<text x="510.0" y="30.40" font-size="7.1" fill="#000" stroke="#000" stroke-width="0.05" transform="rotate(0.04 510.0 30.40)">Location = 0, Scale = 10</text>
<rect x="499.6" y="31.60" width="6.1" height="8.65" fill="#1B9E77" fill-opacity="0.64" stroke="#1B9E77" stroke-width="1.0"/>
<text x="510.0" y="39.40" font-size="7.1" fill="#000" stroke="#000" stroke-width="0.05" transform="rotate(0.04 510.0 39.40)">Location = 1, Scale = 3</text>
<rect x="499.6" y="40.30" width="6.1" height="8.65" fill="#E7298A" fill-opacity="0.64" stroke="#E7298A" stroke-width="1.0"/>
<text x="510.0" y="48.40" font-size="7.1" fill="#000" stroke="#000" stroke-width="0.05" transform="rotate(0.04 510.0 48.40)">Location = 0, Scale = 1</text>
<text x="6.7" y="154.0" font-size="8.75" fill="#000" stroke="#000" stroke-width="0.1" text-anchor="middle" transform="rotate(-89.96 6.7 154.0)">Density</text>
<text x="353.7" y="273.7" font-size="8.75" fill="#000" stroke="#000" stroke-width="0.1" text-anchor="middle" transform="rotate(0.04 353.7 273.7)">Parameter value</text>
</g>
</svg>
</body></html>
